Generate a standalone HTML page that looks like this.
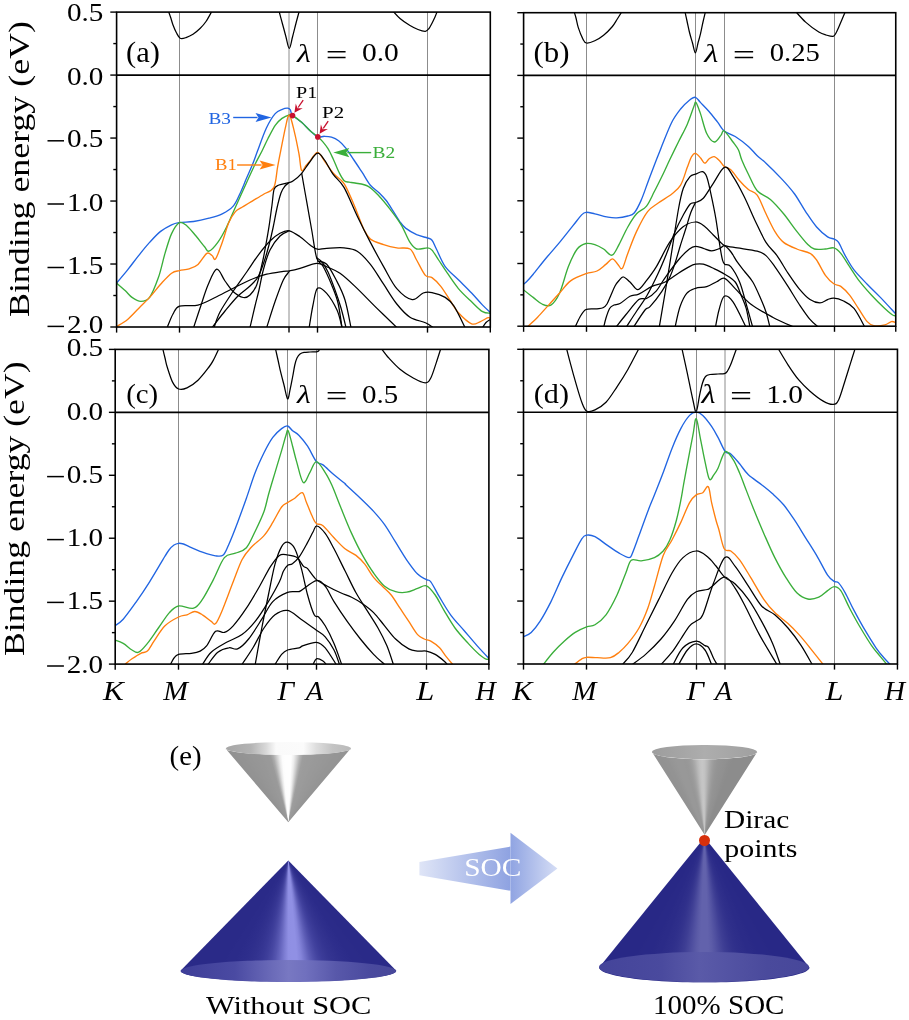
<!DOCTYPE html>
<html><head><meta charset="utf-8"><title>Band structure</title>
<style>html,body{margin:0;padding:0;background:#fff;}.t{}body{width:909px;height:1020px;position:relative;overflow:hidden;}</style>
</head><body>
<svg width="909" height="1020" viewBox="0 0 909 1020" style="position:absolute;left:0;top:0">
<defs>
</defs>
<clipPath id="clipa"><rect x="116.6" y="12.1" width="373.70000000000005" height="314.9"/></clipPath>
<line x1="179.50" y1="12.1" x2="179.50" y2="327.0" stroke="#8c8c8c" stroke-width="1"/>
<line x1="289.00" y1="12.1" x2="289.00" y2="327.0" stroke="#8c8c8c" stroke-width="1"/>
<line x1="317.50" y1="12.1" x2="317.50" y2="327.0" stroke="#8c8c8c" stroke-width="1"/>
<line x1="427.50" y1="12.1" x2="427.50" y2="327.0" stroke="#8c8c8c" stroke-width="1"/>
<g clip-path="url(#clipa)" fill="none" stroke-linejoin="round" stroke-linecap="round">
<path d="M168.3,11.0 C168.7,12.0 169.7,14.7 170.5,17.0 C171.3,19.3 172.0,22.4 173.0,25.0 C174.0,27.6 175.1,30.3 176.3,32.5 C177.5,34.7 178.6,37.4 180.2,38.3 C181.8,39.1 183.9,38.3 186.0,37.6 C188.1,36.9 190.7,35.8 193.0,34.3 C195.3,32.8 197.8,30.6 200.0,28.5 C202.2,26.4 204.0,24.4 206.0,21.5 C208.0,18.6 211.0,12.8 212.0,11.0" stroke="#000000" stroke-width="1.25"/>
<path d="M279.0,11.0 C279.6,13.2 281.3,19.7 282.5,24.0 C283.7,28.3 284.9,32.9 286.0,37.0 C287.1,41.1 288.2,48.4 289.3,48.4 C290.4,48.4 291.4,41.1 292.5,37.0 C293.6,32.9 294.7,28.3 295.8,24.0 C296.9,19.7 298.7,13.2 299.3,11.0" stroke="#000000" stroke-width="1.25"/>
<path d="M392.0,10.0 C393.3,11.4 397.0,15.9 400.0,18.5 C403.0,21.1 407.0,23.7 410.0,25.5 C413.0,27.3 415.4,28.5 418.0,29.5 C420.6,30.5 423.6,31.5 425.4,31.3 C427.2,31.1 427.9,29.9 429.0,28.5 C430.1,27.1 431.0,25.1 432.0,23.2 C433.0,21.3 434.0,19.2 435.0,17.0 C436.0,14.8 437.3,11.2 437.8,10.0" stroke="#000000" stroke-width="1.25"/>
<path d="M116.6,283.1 C118.4,280.9 123.9,274.5 127.6,269.9 C131.3,265.3 134.9,260.2 138.6,255.6 C142.3,251.0 145.9,246.4 149.6,242.4 C153.3,238.4 156.9,234.3 160.6,231.4 C164.3,228.5 168.4,226.3 171.6,224.8 C174.8,223.3 175.8,223.2 179.5,222.6 C183.2,222.0 188.7,222.2 193.6,221.5 C198.5,220.8 204.2,219.5 209.0,218.2 C213.8,216.9 218.2,215.8 222.2,213.8 C226.2,211.8 230.3,209.4 233.2,206.1 C236.1,202.8 237.6,198.6 239.8,194.0 C242.0,189.4 244.2,183.7 246.4,178.6 C248.6,173.5 251.1,167.8 253.0,163.2 C254.9,158.6 255.4,156.7 257.6,150.8 C259.8,144.9 263.5,134.2 266.4,128.0 C269.3,121.8 272.5,116.7 275.2,113.6 C277.9,110.5 280.2,110.2 282.3,109.3 C284.4,108.4 286.3,108.1 287.6,108.2 C288.9,108.3 289.5,108.6 290.3,109.8 C291.1,111.0 290.6,113.1 292.5,115.2 C294.4,117.3 298.6,119.7 301.6,122.3 C304.6,124.9 307.7,128.6 310.4,131.0 C313.1,133.4 315.4,136.0 317.8,136.9 C320.2,137.8 322.2,136.2 324.5,136.3 C326.8,136.4 329.1,136.5 331.5,137.2 C333.9,137.9 336.2,138.9 338.6,140.7 C341.0,142.5 343.1,144.6 345.6,147.8 C348.2,151.0 351.1,155.9 353.9,160.0 C356.7,164.1 359.4,168.2 362.2,172.4 C364.9,176.6 367.5,181.8 370.4,185.2 C373.2,188.6 376.7,190.3 379.3,192.9 C381.9,195.5 383.9,197.5 386.2,200.5 C388.5,203.5 390.7,207.2 393.0,210.8 C395.3,214.4 397.8,218.9 399.9,221.8 C402.0,224.7 402.8,225.9 405.6,228.1 C408.4,230.2 412.9,233.0 416.6,234.7 C420.3,236.3 425.0,237.1 427.6,238.0 C430.2,238.9 430.5,238.4 432.0,240.2 C433.5,242.0 434.2,244.6 436.4,249.0 C438.6,253.4 441.5,261.5 445.2,266.6 C448.9,271.7 454.0,275.4 458.4,279.8 C462.8,284.2 467.6,288.8 471.6,293.0 C475.6,297.2 479.5,301.9 482.6,305.1 C485.8,308.4 489.2,311.3 490.5,312.5" stroke="#2165e2" stroke-width="1.35"/>
<path d="M116.6,283.1 C118.1,284.4 122.8,288.4 125.4,290.8 C128.0,293.2 129.4,295.6 132.0,297.4 C134.6,299.2 137.9,301.4 140.8,301.4 C143.7,301.4 146.7,301.4 149.6,297.4 C152.5,293.4 155.8,284.9 158.4,277.6 C161.0,270.3 162.8,260.7 165.0,253.4 C167.2,246.1 169.2,238.7 171.6,233.6 C174.0,228.5 176.9,223.9 179.5,222.6 C182.1,221.3 184.3,223.7 187.0,225.9 C189.7,228.1 192.9,232.3 195.8,235.8 C198.7,239.3 202.4,244.2 204.6,246.8 C206.8,249.4 206.8,251.9 209.0,251.2 C211.2,250.5 214.9,246.4 217.8,242.4 C220.7,238.4 223.7,232.9 226.6,227.0 C229.5,221.1 232.1,214.5 235.4,207.2 C238.7,199.9 243.1,190.2 246.4,183.0 C249.7,175.8 252.6,169.3 255.2,164.0 C257.8,158.7 259.9,155.2 262.0,151.0 C264.1,146.8 265.8,142.8 268.0,138.5 C270.2,134.2 272.9,128.7 275.2,125.3 C277.5,122.0 279.6,120.2 282.0,118.4 C284.4,116.7 287.6,115.3 289.3,114.8 C291.1,114.3 290.4,114.2 292.5,115.4 C294.6,116.7 298.6,119.7 301.6,122.3 C304.6,124.9 307.7,128.6 310.4,131.0 C313.1,133.4 315.8,135.1 317.8,136.9 C319.9,138.7 321.0,139.6 322.7,141.6 C324.4,143.6 326.2,145.8 328.0,148.7 C329.8,151.6 331.5,155.4 333.3,159.2 C335.1,163.0 336.8,168.0 338.6,171.5 C340.4,175.0 342.1,178.6 343.9,180.4 C345.7,182.2 347.3,181.8 349.2,182.2 C351.1,182.6 351.8,182.3 355.0,183.0 C358.2,183.7 364.2,184.1 368.2,186.3 C372.2,188.5 375.5,192.3 379.2,196.2 C382.9,200.0 386.5,204.6 390.2,209.4 C393.9,214.2 397.9,219.3 401.2,224.8 C404.5,230.3 407.4,238.4 410.0,242.4 C412.6,246.4 413.7,248.1 416.6,249.0 C419.5,249.9 425.0,247.7 427.6,247.9 C430.2,248.1 430.2,248.1 432.0,250.1 C433.8,252.1 436.0,256.1 438.6,260.0 C441.2,263.9 444.1,268.4 447.4,273.2 C450.7,278.0 454.4,283.8 458.4,288.6 C462.4,293.4 467.6,298.0 471.6,301.8 C475.6,305.6 479.5,309.8 482.6,311.7 C485.8,313.6 489.2,313.0 490.5,313.3" stroke="#3aae3a" stroke-width="1.35"/>
<path d="M116.6,326.5 C118.4,325.3 123.9,322.4 127.6,319.4 C131.3,316.4 134.9,312.1 138.6,308.4 C142.3,304.7 145.9,301.4 149.6,297.4 C153.3,293.4 156.9,288.2 160.6,284.2 C164.3,280.2 168.4,275.5 171.6,273.2 C174.8,270.9 176.6,271.3 179.5,270.6 C182.4,269.9 186.1,269.8 189.2,268.8 C192.3,267.8 195.1,267.0 198.0,264.4 C200.9,261.8 204.5,254.9 206.8,253.4 C209.1,251.9 210.5,254.6 212.0,255.5 C213.5,256.4 213.9,261.1 215.6,258.9 C217.3,256.7 220.0,248.4 222.2,242.4 C224.4,236.4 226.6,227.7 228.8,222.6 C231.0,217.5 233.2,214.2 235.4,211.6 C237.6,209.0 239.1,209.0 242.0,207.2 C244.9,205.4 249.3,202.8 253.0,200.6 C256.7,198.4 260.5,196.2 264.0,194.0 C267.5,191.8 271.6,191.8 273.9,187.4 C276.1,183.0 276.4,173.8 277.5,167.6 C278.6,161.4 279.4,157.4 280.8,150.4 C282.2,143.4 284.4,131.6 285.8,125.8 C287.2,120.0 288.0,114.2 289.5,115.4 C291.0,116.6 293.0,126.4 294.6,132.8 C296.2,139.2 297.8,147.7 299.0,154.0 C300.2,160.3 300.4,168.6 301.6,170.5 C302.8,172.4 304.5,167.2 306.0,165.5 C307.5,163.8 308.5,162.7 310.4,160.5 C312.3,158.3 315.1,152.3 317.5,152.4 C319.9,152.5 321.9,157.5 324.5,161.0 C327.1,164.5 330.4,169.9 333.3,173.3 C336.2,176.7 340.0,178.8 342.1,181.2 C344.2,183.5 344.1,183.1 346.2,187.4 C348.3,191.7 352.1,200.2 355.0,207.2 C357.9,214.2 361.2,223.9 363.8,229.2 C366.4,234.5 367.1,236.5 370.4,239.1 C373.7,241.7 379.2,243.1 383.6,244.6 C388.0,246.1 392.4,247.2 396.8,247.9 C401.2,248.6 406.7,247.0 410.0,249.0 C413.3,251.0 414.0,255.6 416.6,260.0 C419.2,264.4 422.8,272.5 425.4,275.4 C428.0,278.3 429.4,275.8 432.0,277.6 C434.6,279.4 437.9,282.7 440.8,286.4 C443.7,290.1 446.7,295.2 449.6,299.6 C452.5,304.0 454.7,308.8 458.4,312.8 C462.1,316.8 467.9,322.3 471.6,323.8 C475.3,325.3 477.6,322.6 480.4,321.6 C483.1,320.6 486.3,318.1 488.1,317.7 C489.9,317.3 490.5,319.1 491.0,319.4" stroke="#ff7f0e" stroke-width="1.35"/>
<path d="M167.2,327.5 C168.2,325.2 170.9,317.6 173.0,314.0 C175.1,310.4 175.3,307.7 179.5,306.2 C183.7,304.7 191.8,306.7 198.0,305.1 C204.2,303.5 210.8,299.5 216.7,296.7 C222.6,293.9 227.8,291.1 233.3,288.3 C238.9,285.5 244.4,282.4 250.0,280.0 C255.6,277.6 261.1,275.6 266.7,274.2 C272.2,272.8 279.6,271.9 283.3,271.3 C287.1,270.7 286.4,271.3 289.2,270.8 C292.0,270.3 295.4,269.6 300.0,268.3 C304.6,267.1 312.2,263.6 316.7,263.3 C321.1,263.0 322.8,265.0 326.7,266.7 C330.6,268.4 335.3,270.0 340.0,273.3 C344.7,276.6 348.8,280.5 355.0,286.4 C361.2,292.2 370.0,301.5 377.0,308.4 C384.0,315.2 393.5,324.3 396.8,327.5" stroke="#000000" stroke-width="1.25"/>
<path d="M193.6,327.5 C194.7,324.3 197.6,315.4 200.0,308.3 C202.4,301.2 205.2,291.5 208.0,285.0 C210.8,278.5 213.9,269.9 216.7,269.2 C219.5,268.5 222.2,277.2 225.0,281.0 C227.8,284.8 230.2,288.9 233.3,291.7 C236.4,294.4 240.5,296.9 243.3,297.5 C246.1,298.1 247.8,297.1 250.0,295.0 C252.2,292.9 254.6,290.5 256.7,285.0 C258.8,279.5 260.9,268.8 262.5,262.0 C264.1,255.2 264.9,249.9 266.0,244.0 C267.1,238.1 268.0,233.2 269.0,226.7 C270.0,220.2 271.1,211.3 272.0,205.0 C272.9,198.7 273.0,192.3 274.2,189.0 C275.4,185.7 276.5,186.1 279.0,185.0 C281.5,183.9 286.8,183.2 289.2,182.5 C291.6,181.8 291.2,182.3 293.3,180.8 C295.4,179.3 299.1,176.3 301.7,173.3 C304.3,170.3 306.4,166.3 309.0,163.0 C311.6,159.7 314.9,153.7 317.5,153.2 C320.1,152.7 321.9,156.5 324.5,160.0 C327.1,163.5 329.8,169.6 333.0,174.2 C336.2,178.8 340.0,180.4 344.0,187.4 C348.0,194.4 352.8,206.8 357.2,216.0 C361.6,225.2 366.0,234.0 370.4,242.4 C374.8,250.8 379.2,258.9 383.6,266.6 C388.0,274.3 392.0,283.1 396.8,288.6 C401.6,294.1 407.8,298.9 412.2,299.6 C416.6,300.3 419.9,294.2 423.2,293.0 C426.5,291.8 428.3,291.9 432.0,292.6 C435.7,293.3 441.5,295.1 445.2,297.4 C448.9,299.7 450.7,301.2 454.0,306.2 C457.3,311.2 463.2,323.9 465.0,327.5" stroke="#000000" stroke-width="1.25"/>
<path d="M212.0,327.5 C214.2,324.8 220.7,316.2 225.0,311.0 C229.3,305.8 233.8,300.2 238.0,296.0 C242.2,291.8 246.7,289.2 250.0,286.0 C253.3,282.8 255.7,281.0 258.0,277.0 C260.3,273.0 262.2,267.3 264.0,262.0 C265.8,256.7 267.5,250.7 269.0,245.0 C270.5,239.3 271.7,234.2 273.0,228.0 C274.3,221.8 275.7,213.8 277.0,208.0 C278.3,202.2 279.7,196.7 281.0,193.0 C282.3,189.3 283.6,187.8 285.0,186.0 C286.4,184.2 288.5,183.1 289.2,182.5" stroke="#000000" stroke-width="1.25"/>
<path d="M214.0,327.5 C215.0,324.9 216.8,318.1 220.0,312.0 C223.2,305.9 228.9,297.7 233.3,291.0 C237.8,284.3 242.5,278.0 246.7,272.0 C250.9,266.0 254.4,260.2 258.3,255.0 C262.2,249.8 266.4,244.6 270.0,241.0 C273.6,237.4 276.8,235.0 280.0,233.3 C283.2,231.6 285.9,230.2 289.2,230.8 C292.5,231.4 296.5,234.3 300.0,236.7 C303.5,239.1 307.1,242.9 310.0,245.0 C312.9,247.1 314.7,248.6 317.5,249.2 C320.3,249.8 322.3,248.5 326.7,248.3 C331.1,248.1 338.9,247.4 344.0,247.9 C349.1,248.4 352.8,248.4 357.2,251.2 C361.6,253.9 366.0,258.9 370.4,264.4 C374.8,269.9 379.2,277.6 383.6,284.2 C388.0,290.8 392.4,298.5 396.8,304.0 C401.2,309.5 405.2,314.1 410.0,317.2 C414.8,320.3 421.6,321.0 425.4,322.7 C429.2,324.4 431.7,326.7 433.0,327.5" stroke="#000000" stroke-width="1.25"/>
<path d="M250.0,327.5 C250.8,323.9 253.5,312.2 255.0,306.0 C256.5,299.8 257.6,296.0 259.0,290.0 C260.4,284.0 261.5,276.7 263.3,270.0 C265.1,263.3 267.2,255.7 270.0,250.0 C272.8,244.3 276.8,239.2 280.0,236.0 C283.2,232.8 287.7,231.7 289.2,230.8" stroke="#000000" stroke-width="1.25"/>
<path d="M266.7,327.5 C268.1,323.2 272.2,309.6 275.0,301.7 C277.8,293.8 280.9,285.0 283.3,280.0 C285.7,275.0 288.2,272.9 289.2,271.5" stroke="#000000" stroke-width="1.25"/>
<path d="M301.7,173.3 C302.5,178.0 305.0,192.2 306.7,201.7 C308.4,211.1 310.0,220.6 311.7,230.0 C313.4,239.4 314.8,251.9 316.7,258.0 C318.6,264.1 320.8,262.2 323.3,266.7 C325.8,271.2 329.2,278.9 331.7,285.0 C334.1,291.1 336.3,295.9 338.0,303.0 C339.7,310.1 341.3,323.4 342.0,327.5" stroke="#000000" stroke-width="1.25"/>
<path d="M317.0,258.0 C317.8,258.7 320.2,259.7 322.0,262.0 C323.8,264.3 325.8,267.3 328.0,272.0 C330.2,276.7 332.8,284.0 335.0,290.0 C337.2,296.0 339.2,301.8 341.0,308.0 C342.8,314.2 345.2,324.2 346.0,327.5" stroke="#000000" stroke-width="1.25"/>
<path d="M317.5,261.0 C319.0,261.6 323.5,261.0 326.7,264.3 C329.9,267.6 333.6,275.1 336.7,281.0 C339.8,286.9 342.6,292.2 345.0,300.0 C347.4,307.8 350.0,322.9 351.0,327.5" stroke="#000000" stroke-width="1.25"/>
<path d="M309.2,327.5 C309.8,323.8 311.6,311.5 313.0,305.0 C314.4,298.5 315.2,290.2 317.5,288.3 C319.8,286.4 323.4,289.7 326.7,293.3 C329.9,296.9 334.4,304.3 337.0,310.0 C339.6,315.7 341.2,324.6 342.0,327.5" stroke="#000000" stroke-width="1.25"/>
<path d="M482.6,327.5 C483.2,326.7 484.7,323.9 486.0,322.5 C487.3,321.1 489.6,319.9 490.3,319.4" stroke="#000000" stroke-width="1.25"/>
</g>
<line x1="116.6" y1="75.08" x2="490.3" y2="75.08" stroke="#000" stroke-width="1.6"/>
<rect x="116.6" y="12.1" width="373.70" height="314.90" fill="none" stroke="#000" stroke-width="1.6"/>
<line x1="110.30" y1="12.10" x2="116.6" y2="12.10" stroke="#000" stroke-width="1.4"/>
<line x1="113.30" y1="43.59" x2="116.6" y2="43.59" stroke="#000" stroke-width="1.4"/>
<line x1="110.30" y1="75.08" x2="116.6" y2="75.08" stroke="#000" stroke-width="1.4"/>
<line x1="113.30" y1="106.57" x2="116.6" y2="106.57" stroke="#000" stroke-width="1.4"/>
<line x1="110.30" y1="138.06" x2="116.6" y2="138.06" stroke="#000" stroke-width="1.4"/>
<line x1="113.30" y1="169.55" x2="116.6" y2="169.55" stroke="#000" stroke-width="1.4"/>
<line x1="110.30" y1="201.04" x2="116.6" y2="201.04" stroke="#000" stroke-width="1.4"/>
<line x1="113.30" y1="232.53" x2="116.6" y2="232.53" stroke="#000" stroke-width="1.4"/>
<line x1="110.30" y1="264.02" x2="116.6" y2="264.02" stroke="#000" stroke-width="1.4"/>
<line x1="113.30" y1="295.51" x2="116.6" y2="295.51" stroke="#000" stroke-width="1.4"/>
<line x1="110.30" y1="327.00" x2="116.6" y2="327.00" stroke="#000" stroke-width="1.4"/>
<line x1="116.60" y1="327.0" x2="116.60" y2="332.60" stroke="#000" stroke-width="1.4"/>
<line x1="179.50" y1="327.0" x2="179.50" y2="332.60" stroke="#000" stroke-width="1.4"/>
<line x1="289.00" y1="327.0" x2="289.00" y2="332.60" stroke="#000" stroke-width="1.4"/>
<line x1="317.50" y1="327.0" x2="317.50" y2="332.60" stroke="#000" stroke-width="1.4"/>
<line x1="427.50" y1="327.0" x2="427.50" y2="332.60" stroke="#000" stroke-width="1.4"/>
<line x1="490.30" y1="327.0" x2="490.30" y2="332.60" stroke="#000" stroke-width="1.4"/>
<clipPath id="clipb"><rect x="523.6" y="12.7" width="372.15" height="313.5"/></clipPath>
<line x1="586.50" y1="12.7" x2="586.50" y2="326.2" stroke="#8c8c8c" stroke-width="1"/>
<line x1="695.50" y1="12.7" x2="695.50" y2="326.2" stroke="#8c8c8c" stroke-width="1"/>
<line x1="724.50" y1="12.7" x2="724.50" y2="326.2" stroke="#8c8c8c" stroke-width="1"/>
<line x1="834.50" y1="12.7" x2="834.50" y2="326.2" stroke="#8c8c8c" stroke-width="1"/>
<g clip-path="url(#clipb)" fill="none" stroke-linejoin="round" stroke-linecap="round">
<path d="M573.9,11.0 C574.2,12.2 575.3,15.2 576.0,18.0 C576.7,20.8 577.2,24.2 578.3,27.6 C579.4,31.0 581.4,36.0 582.7,38.6 C584.1,41.2 584.4,42.6 586.4,43.0 C588.4,43.4 591.9,42.1 594.8,40.8 C597.7,39.5 600.7,37.7 603.6,35.3 C606.5,32.9 610.2,29.1 612.4,26.5 C614.6,23.9 615.4,22.1 617.0,19.5 C618.6,16.9 621.4,12.4 622.3,11.0" stroke="#000000" stroke-width="1.25"/>
<path d="M684.8,11.0 C685.2,12.7 686.2,17.5 687.0,21.0 C687.8,24.5 688.5,28.3 689.4,32.0 C690.3,35.7 691.5,39.5 692.5,43.0 C693.5,46.5 694.5,52.9 695.4,52.9 C696.3,52.9 697.2,46.1 698.0,43.0 C698.8,39.9 699.6,37.7 700.4,34.2 C701.2,30.7 702.1,25.9 703.0,22.0 C703.9,18.1 705.2,12.8 705.6,11.0" stroke="#000000" stroke-width="1.25"/>
<path d="M795.2,11.0 C796.9,12.8 801.7,18.6 805.6,22.1 C809.5,25.6 815.4,29.9 818.8,32.0 C822.2,34.1 823.6,34.3 826.0,35.0 C828.4,35.7 831.4,36.7 833.1,36.4 C834.8,36.1 835.1,34.5 836.0,33.0 C836.9,31.5 837.6,29.9 838.6,27.6 C839.6,25.4 840.8,22.3 842.0,19.5 C843.2,16.7 845.0,12.4 845.6,11.0" stroke="#000000" stroke-width="1.25"/>
<path d="M523.6,284.2 C524.2,283.7 525.4,283.0 527.0,281.3 C528.6,279.6 530.0,278.1 533.2,274.2 C536.4,270.3 542.0,263.1 546.4,257.8 C550.8,252.5 555.2,247.7 559.6,242.4 C564.0,237.1 569.1,230.5 572.8,225.9 C576.5,221.3 579.4,217.2 581.6,214.9 C583.8,212.6 583.8,212.5 586.0,212.3 C588.2,212.1 591.1,213.0 594.8,213.8 C598.5,214.6 604.3,216.4 608.0,217.1 C611.7,217.8 613.5,218.0 616.8,217.8 C620.1,217.6 624.9,216.8 627.8,216.0 C630.7,215.2 632.2,215.3 634.4,212.7 C636.6,210.1 638.8,205.5 641.0,200.6 C643.2,195.7 645.4,188.9 647.6,183.0 C649.8,177.1 652.2,170.7 654.2,165.4 C656.2,160.2 658.2,155.2 659.7,151.5 C661.2,147.8 661.0,147.9 663.0,143.0 C665.0,138.1 668.9,127.9 671.8,122.2 C674.7,116.5 677.7,112.7 680.6,109.0 C683.5,105.3 686.9,102.2 689.4,100.2 C691.9,98.2 693.6,96.9 695.4,97.3 C697.2,97.7 698.2,100.1 700.4,102.4 C702.6,104.7 705.9,107.9 708.8,111.2 C711.7,114.5 715.0,118.9 717.6,122.2 C720.2,125.5 721.3,128.6 724.2,131.0 C727.1,133.4 731.2,133.9 735.2,136.5 C739.2,139.1 744.8,143.2 748.4,146.4 C752.0,149.6 754.1,152.7 757.0,155.5 C759.9,158.3 761.9,159.3 766.0,163.2 C770.1,167.0 776.6,173.5 781.4,178.6 C786.2,183.7 790.6,188.5 794.6,194.0 C798.6,199.5 801.9,206.1 805.6,211.6 C809.3,217.1 812.9,222.8 816.6,227.0 C820.3,231.2 824.7,234.9 827.6,236.9 C830.5,238.9 832.4,238.2 834.2,239.1 C836.0,240.0 836.8,239.7 838.6,242.4 C840.4,245.2 842.6,251.0 845.2,255.6 C847.8,260.2 850.3,265.1 854.0,269.9 C857.7,274.7 862.8,279.6 867.2,284.2 C871.6,288.8 875.8,292.6 880.4,297.4 C885.0,302.2 892.1,310.0 894.7,312.8 C897.3,315.6 895.8,313.8 896.0,314.0" stroke="#2165e2" stroke-width="1.35"/>
<path d="M523.3,289.7 C524.9,291.0 530.1,295.0 533.2,297.4 C536.3,299.8 539.1,302.7 542.0,304.0 C544.9,305.3 547.9,306.9 550.8,305.1 C553.7,303.3 556.7,299.4 559.6,293.0 C562.5,286.6 565.5,273.9 568.4,266.6 C571.3,259.3 574.3,252.8 577.2,249.0 C580.1,245.2 583.1,244.2 586.0,243.5 C588.9,242.8 591.9,243.7 594.8,244.6 C597.7,245.5 600.7,247.2 603.6,249.0 C606.5,250.8 609.4,255.9 612.0,255.2 C614.6,254.5 616.4,249.3 619.0,244.6 C621.6,239.9 624.9,232.1 627.8,227.0 C630.7,221.9 633.5,217.3 636.6,213.8 C639.7,210.3 643.6,209.8 646.5,206.1 C649.4,202.4 651.5,197.1 654.2,191.8 C657.0,186.5 660.4,179.5 663.0,174.2 C665.6,168.9 667.0,165.4 669.6,160.0 C672.2,154.6 675.5,147.9 678.4,142.0 C681.3,136.1 684.6,130.3 687.2,124.4 C689.8,118.5 692.3,110.5 693.8,106.8 C695.3,103.1 694.9,101.3 696.0,102.4 C697.1,103.5 698.6,108.3 700.4,113.4 C702.2,118.5 704.3,128.4 706.6,133.2 C708.9,138.0 711.9,141.6 714.3,142.0 C716.7,142.4 719.2,137.2 720.9,135.4 C722.5,133.6 722.2,129.9 724.2,131.0 C726.2,132.1 730.6,138.8 733.0,142.0 C735.4,145.2 737.0,147.0 738.5,150.0 C740.0,153.0 740.1,156.0 741.8,160.0 C743.4,164.0 745.8,169.1 748.4,174.2 C751.0,179.3 753.5,186.5 757.2,190.7 C760.9,194.9 766.0,195.7 770.4,199.5 C774.8,203.3 779.2,208.5 783.6,213.8 C788.0,219.1 792.8,226.3 796.8,231.4 C800.8,236.5 804.9,241.7 807.8,244.6 C810.7,247.5 811.5,248.3 814.4,249.0 C817.3,249.7 822.2,249.2 825.4,249.0 C828.6,248.8 831.2,247.2 833.8,247.9 C836.4,248.6 838.2,250.3 840.8,253.4 C843.4,256.5 846.7,262.2 849.6,266.6 C852.5,271.0 854.7,275.0 858.4,279.8 C862.1,284.6 867.2,290.4 871.6,295.2 C876.0,300.0 881.1,305.0 884.8,308.4 C888.5,311.8 891.7,314.6 893.6,315.5 C895.5,316.4 895.6,314.2 896.0,313.9" stroke="#3aae3a" stroke-width="1.35"/>
<path d="M527.7,326.5 C529.4,324.9 534.1,320.8 537.6,317.2 C541.1,313.6 544.9,309.1 548.6,305.1 C552.3,301.1 555.9,297.0 559.6,293.0 C563.3,289.0 566.2,284.1 570.6,280.9 C575.0,277.7 581.6,275.3 586.0,273.7 C590.4,272.1 593.7,272.6 597.0,271.0 C600.3,269.4 603.2,266.4 605.8,264.4 C608.4,262.4 610.4,258.9 612.4,258.9 C614.4,258.9 616.2,262.8 617.9,264.4 C619.5,266.0 620.6,270.2 622.3,268.4 C623.9,266.6 625.4,259.6 627.8,253.4 C630.2,247.2 633.3,238.4 636.6,231.4 C639.9,224.4 643.9,216.4 647.6,211.6 C651.3,206.8 654.6,205.7 658.6,202.8 C662.6,199.9 668.1,196.9 671.8,194.0 C675.5,191.1 678.0,189.6 680.6,185.2 C683.2,180.8 685.4,172.4 687.2,167.6 C689.0,162.8 690.2,159.0 691.6,156.6 C693.0,154.2 693.9,153.1 695.4,153.3 C696.9,153.5 698.8,156.0 700.4,157.7 C702.0,159.3 703.3,163.0 704.8,163.2 C706.3,163.4 707.6,159.9 709.2,158.8 C710.8,157.7 712.5,156.2 714.3,156.6 C716.1,157.0 718.1,159.3 719.8,161.0 C721.4,162.7 722.4,165.0 724.2,166.5 C726.0,168.0 728.2,167.4 730.8,169.8 C733.4,172.2 736.7,177.5 739.6,180.8 C742.5,184.1 745.5,187.2 748.4,189.6 C751.3,192.0 754.3,191.1 757.2,195.1 C760.1,199.1 763.1,207.8 766.0,213.8 C768.9,219.9 771.9,226.6 774.8,231.4 C777.7,236.2 779.9,239.5 783.6,242.4 C787.3,245.3 792.4,247.2 796.8,249.0 C801.2,250.8 806.7,251.6 810.0,253.4 C813.3,255.2 814.0,256.3 816.6,260.0 C819.2,263.7 822.5,271.4 825.4,275.4 C828.3,279.4 831.2,282.0 833.8,283.8 C836.4,285.6 838.2,284.5 840.8,286.4 C843.4,288.3 846.7,291.5 849.6,295.2 C852.5,298.9 855.5,304.0 858.4,308.4 C861.3,312.8 864.6,318.7 867.2,321.6 C869.8,324.5 870.9,325.1 873.8,325.6 C876.7,326.2 881.9,325.6 884.8,324.9 C887.7,324.2 889.5,322.0 891.4,321.6 C893.3,321.2 895.2,322.5 896.0,322.7" stroke="#ff7f0e" stroke-width="1.35"/>
<path d="M603.6,327.5 C604.0,325.9 605.0,321.2 606.0,318.0 C607.0,314.8 608.3,310.7 609.6,308.5 C610.9,306.3 612.3,305.8 614.0,305.0 C615.7,304.2 617.3,304.9 620.0,303.5 C622.7,302.1 626.9,297.9 630.0,296.3 C633.1,294.7 635.1,295.8 638.8,294.1 C642.5,292.5 647.6,288.4 652.0,286.4 C656.4,284.4 660.8,284.2 665.2,282.0 C669.6,279.8 674.4,275.8 678.4,273.2 C682.4,270.6 686.5,268.1 689.4,266.6 C692.2,265.1 693.2,264.6 695.5,264.2 C697.8,263.8 700.3,263.5 703.3,264.2 C706.3,264.9 709.7,266.6 713.3,268.3 C716.9,270.0 721.1,271.9 724.7,274.2 C728.4,276.5 732.5,278.5 735.2,282.0 C737.9,285.5 739.2,290.6 741.0,295.0 C742.8,299.4 744.7,303.0 746.2,308.4 C747.7,313.8 749.4,324.3 750.0,327.5" stroke="#000000" stroke-width="1.25"/>
<path d="M575.0,327.5 C575.8,325.8 578.2,320.0 580.0,317.0 C581.8,314.0 583.2,310.9 586.0,309.5 C588.8,308.1 594.2,309.1 597.0,308.8 C599.8,308.5 601.3,308.6 603.0,307.8 C604.7,307.0 605.7,306.1 607.0,304.0 C608.3,301.9 609.7,298.0 611.0,295.0 C612.3,292.0 613.7,288.4 615.0,286.0 C616.3,283.6 617.6,282.0 619.0,280.5 C620.4,279.0 621.6,276.8 623.4,277.0 C625.2,277.2 627.6,279.9 630.0,282.0 C632.4,284.1 635.1,289.7 637.7,289.7 C640.3,289.7 642.3,285.9 645.4,282.0 C648.5,278.1 652.4,273.2 656.4,266.6 C660.4,260.0 665.2,249.0 669.6,242.4 C674.0,235.8 678.5,230.4 682.8,227.0 C687.1,223.6 691.8,222.1 695.5,222.0 C699.2,221.9 702.0,224.5 705.0,226.7 C708.0,228.9 710.8,232.5 713.3,235.0 C715.8,237.5 718.1,239.9 720.0,241.7 C721.9,243.5 721.8,244.6 724.7,245.6 C727.6,246.6 732.0,247.0 737.4,247.9 C742.8,248.8 752.4,249.9 757.2,251.2 C762.0,252.5 763.1,253.0 766.0,255.6 C768.9,258.2 771.1,261.5 774.8,266.6 C778.5,271.7 784.0,280.2 788.0,286.4 C792.0,292.6 795.3,298.5 799.0,304.0 C802.7,309.5 806.7,315.5 810.0,319.4 C813.3,323.3 817.3,326.1 818.8,327.5" stroke="#000000" stroke-width="1.25"/>
<path d="M615.7,327.5 C617.4,325.4 621.8,319.6 625.6,315.0 C629.5,310.4 635.3,302.4 638.8,299.6 C642.3,296.9 643.6,300.0 646.5,298.5 C649.4,297.0 653.3,294.3 656.4,290.8 C659.5,287.3 661.5,282.7 665.2,277.6 C668.9,272.5 674.4,264.8 678.4,260.0 C682.4,255.2 686.5,251.3 689.4,249.0 C692.2,246.7 693.2,246.4 695.5,246.3 C697.8,246.2 700.6,247.6 703.3,248.3 C706.0,249.1 708.9,250.8 711.7,250.8 C714.5,250.8 717.8,249.1 720.0,248.3 C722.2,247.5 722.9,245.2 724.7,245.8 C726.5,246.4 728.9,249.3 731.0,252.0 C733.1,254.7 735.1,258.9 737.4,262.2 C739.7,265.5 742.4,268.7 745.0,272.0 C747.6,275.3 750.3,277.8 752.8,282.0 C755.3,286.2 757.8,292.0 760.0,297.0 C762.2,302.0 764.3,306.9 766.0,312.0 C767.7,317.1 769.3,324.9 770.0,327.5" stroke="#000000" stroke-width="1.25"/>
<path d="M626.0,327.5 C627.8,324.8 633.2,316.2 636.7,311.0 C640.2,305.8 643.1,302.3 646.7,296.0 C650.3,289.7 655.0,280.1 658.3,273.0 C661.6,265.9 663.9,260.2 666.7,253.3 C669.5,246.4 672.2,238.1 675.0,231.7 C677.8,225.3 680.8,219.6 683.3,215.0 C685.8,210.4 688.0,206.3 690.0,204.2 C692.0,202.1 693.3,203.5 695.5,202.5 C697.7,201.5 700.3,201.5 703.3,198.3 C706.3,195.1 709.7,188.5 713.3,183.3 C716.9,178.1 721.4,168.3 724.7,167.2 C728.0,166.0 729.8,171.6 733.0,176.4 C736.2,181.2 740.3,188.9 744.0,196.2 C747.7,203.5 751.3,212.7 755.0,220.4 C758.7,228.1 762.3,236.5 766.0,242.4 C769.7,248.3 773.3,250.5 777.0,255.6 C780.7,260.7 784.3,267.7 788.0,273.2 C791.7,278.7 795.3,284.2 799.0,288.6 C802.7,293.0 806.5,297.2 810.0,299.6 C813.5,302.0 817.0,302.9 819.9,302.9 C822.8,302.9 825.3,300.4 827.6,299.6 C829.9,298.8 831.2,297.9 833.8,298.1 C836.4,298.3 839.6,299.0 843.0,300.7 C846.4,302.4 850.3,303.9 854.0,308.4 C857.7,312.9 863.2,324.3 865.0,327.5" stroke="#000000" stroke-width="1.25"/>
<path d="M659.2,327.5 C660.2,321.8 662.9,305.9 665.0,293.3 C667.1,280.7 669.5,265.6 671.7,251.7 C673.9,237.8 676.4,220.6 678.3,210.0 C680.2,199.4 681.3,193.9 683.3,188.3 C685.2,182.8 688.0,179.0 690.0,176.7 C692.0,174.3 693.4,175.0 695.5,174.2 C697.6,173.4 700.6,171.3 702.5,171.7 C704.4,172.1 705.3,173.1 706.7,176.7 C708.1,180.3 709.3,186.4 710.8,193.3 C712.3,200.2 714.3,209.4 715.8,218.3 C717.3,227.2 718.9,239.8 720.0,246.7 C721.1,253.6 721.7,257.1 722.5,260.0 C723.3,262.9 723.3,263.1 724.7,264.2 C726.1,265.3 728.3,263.6 730.8,266.6 C733.3,269.6 737.0,275.8 739.6,282.0 C742.2,288.2 744.0,296.4 746.2,304.0 C748.4,311.6 751.7,323.6 752.8,327.5" stroke="#000000" stroke-width="1.25"/>
<path d="M675.0,327.5 C675.8,324.0 678.0,312.4 680.0,306.7 C682.0,301.0 684.1,296.4 686.7,293.3 C689.3,290.2 692.2,289.4 695.5,288.3 C698.8,287.2 703.2,287.8 706.7,286.7 C710.2,285.6 713.7,283.1 716.7,281.7 C719.7,280.3 721.6,277.1 724.7,278.3 C727.8,279.5 730.9,284.3 735.2,288.6 C739.5,292.9 744.4,299.2 750.6,304.0 C756.8,308.8 765.3,313.3 772.6,317.2 C779.9,321.1 790.9,325.8 794.6,327.5" stroke="#000000" stroke-width="1.25"/>
<path d="M633.3,327.5 C635.2,324.6 642.2,313.5 645.0,310.0 C647.8,306.5 647.2,309.8 650.0,306.7 C652.8,303.6 658.4,296.7 661.7,291.7 C665.0,286.7 667.8,281.4 670.0,276.7 C672.2,272.0 673.3,268.3 675.0,263.3 C676.7,258.3 678.2,252.6 680.0,246.7 C681.8,240.8 684.2,233.8 686.0,228.0 C687.8,222.2 689.4,216.2 691.0,212.0 C692.6,207.8 694.8,204.1 695.5,202.5" stroke="#000000" stroke-width="1.25"/>
<path d="M715.4,327.5 C716.0,324.6 717.5,315.2 719.0,310.0 C720.5,304.8 721.9,297.7 724.2,296.3 C726.5,294.9 729.3,296.6 733.0,301.8 C736.7,307.0 744.0,323.2 746.2,327.5" stroke="#000000" stroke-width="1.25"/>
</g>
<line x1="523.6" y1="75.40" x2="895.75" y2="75.40" stroke="#000" stroke-width="1.6"/>
<rect x="523.6" y="12.7" width="372.15" height="313.50" fill="none" stroke="#000" stroke-width="1.6"/>
<line x1="517.30" y1="12.70" x2="523.6" y2="12.70" stroke="#000" stroke-width="1.4"/>
<line x1="520.30" y1="44.05" x2="523.6" y2="44.05" stroke="#000" stroke-width="1.4"/>
<line x1="517.30" y1="75.40" x2="523.6" y2="75.40" stroke="#000" stroke-width="1.4"/>
<line x1="520.30" y1="106.75" x2="523.6" y2="106.75" stroke="#000" stroke-width="1.4"/>
<line x1="517.30" y1="138.10" x2="523.6" y2="138.10" stroke="#000" stroke-width="1.4"/>
<line x1="520.30" y1="169.45" x2="523.6" y2="169.45" stroke="#000" stroke-width="1.4"/>
<line x1="517.30" y1="200.80" x2="523.6" y2="200.80" stroke="#000" stroke-width="1.4"/>
<line x1="520.30" y1="232.15" x2="523.6" y2="232.15" stroke="#000" stroke-width="1.4"/>
<line x1="517.30" y1="263.50" x2="523.6" y2="263.50" stroke="#000" stroke-width="1.4"/>
<line x1="520.30" y1="294.85" x2="523.6" y2="294.85" stroke="#000" stroke-width="1.4"/>
<line x1="517.30" y1="326.20" x2="523.6" y2="326.20" stroke="#000" stroke-width="1.4"/>
<line x1="523.60" y1="326.2" x2="523.60" y2="331.80" stroke="#000" stroke-width="1.4"/>
<line x1="586.50" y1="326.2" x2="586.50" y2="331.80" stroke="#000" stroke-width="1.4"/>
<line x1="695.50" y1="326.2" x2="695.50" y2="331.80" stroke="#000" stroke-width="1.4"/>
<line x1="724.50" y1="326.2" x2="724.50" y2="331.80" stroke="#000" stroke-width="1.4"/>
<line x1="834.50" y1="326.2" x2="834.50" y2="331.80" stroke="#000" stroke-width="1.4"/>
<line x1="895.75" y1="326.2" x2="895.75" y2="331.80" stroke="#000" stroke-width="1.4"/>
<clipPath id="clipc"><rect x="115.2" y="349.4" width="373.7" height="314.70000000000005"/></clipPath>
<line x1="178.50" y1="349.4" x2="178.50" y2="664.1" stroke="#8c8c8c" stroke-width="1"/>
<line x1="287.50" y1="349.4" x2="287.50" y2="664.1" stroke="#8c8c8c" stroke-width="1"/>
<line x1="316.50" y1="349.4" x2="316.50" y2="664.1" stroke="#8c8c8c" stroke-width="1"/>
<line x1="426.50" y1="349.4" x2="426.50" y2="664.1" stroke="#8c8c8c" stroke-width="1"/>
<g clip-path="url(#clipc)" fill="none" stroke-linejoin="round" stroke-linecap="round">
<path d="M162.6,348.0 C163.0,349.7 164.2,354.8 165.0,358.0 C165.8,361.2 165.9,362.9 167.2,367.0 C168.5,371.1 170.8,378.7 172.7,382.4 C174.6,386.1 176.2,388.1 178.6,389.0 C181.0,389.9 183.8,389.4 187.0,387.9 C190.2,386.4 194.3,383.7 198.0,380.2 C201.7,376.7 206.3,370.5 209.0,367.0 C211.7,363.5 212.3,362.2 214.0,359.0 C215.7,355.8 218.3,349.8 219.2,348.0" stroke="#000000" stroke-width="1.25"/>
<path d="M275.3,348.0 C275.8,350.0 277.1,356.1 278.0,360.0 C278.9,363.9 279.5,367.2 280.5,371.4 C281.5,375.6 282.8,380.4 284.0,385.0 C285.2,389.6 286.6,398.2 287.6,398.9 C288.6,399.6 289.3,392.8 290.2,389.0 C291.1,385.2 292.0,380.0 292.8,376.0 C293.6,372.0 294.1,368.0 294.8,365.0 C295.5,362.0 296.1,359.8 297.0,358.0 C297.9,356.2 298.8,354.9 300.0,354.0 C301.2,353.1 302.3,352.7 304.0,352.4 C305.7,352.1 307.9,352.1 310.0,352.0 C312.1,351.9 315.0,352.0 316.4,351.8 C317.8,351.6 318.0,351.6 318.6,351.0 C319.2,350.4 319.8,348.5 320.0,348.0" stroke="#000000" stroke-width="1.25"/>
<path d="M381.0,348.0 C382.3,349.7 385.8,354.7 389.0,358.2 C392.2,361.7 396.0,365.9 400.0,369.2 C404.0,372.5 409.0,375.7 413.2,378.0 C417.4,380.3 422.4,382.8 425.3,382.8 C428.2,382.8 429.0,381.4 430.8,378.0 C432.6,374.6 434.6,367.6 436.3,362.6 C438.0,357.6 440.2,350.4 441.0,348.0" stroke="#000000" stroke-width="1.25"/>
<path d="M114.8,625.8 C116.2,624.7 119.6,623.2 123.2,619.2 C126.8,615.2 132.0,607.8 136.4,601.6 C140.8,595.4 145.2,588.8 149.6,581.8 C154.0,574.8 159.6,565.1 162.8,559.8 C166.0,554.5 167.1,552.5 169.0,550.0 C170.9,547.5 172.4,546.1 174.0,545.0 C175.6,543.9 177.0,543.5 178.6,543.3 C180.2,543.1 181.7,543.5 183.5,544.0 C185.3,544.5 186.0,545.2 189.2,546.6 C192.3,548.0 198.0,550.6 202.4,552.1 C206.8,553.6 212.1,555.3 215.6,555.8 C219.1,556.3 221.1,556.9 223.3,555.0 C225.5,553.1 226.4,549.8 228.8,544.4 C231.2,539.0 234.7,530.1 237.6,522.4 C240.5,514.7 243.5,506.5 246.4,498.2 C249.3,489.9 252.3,480.2 255.2,472.6 C258.1,465.0 261.1,458.7 264.0,452.8 C266.9,446.9 269.9,441.4 272.8,437.4 C275.7,433.4 279.1,430.5 281.6,428.6 C284.1,426.7 285.8,425.6 287.6,426.0 C289.4,426.4 290.7,429.3 292.6,430.8 C294.5,432.3 296.3,432.6 298.8,435.2 C301.3,437.8 304.7,441.8 307.6,446.2 C310.5,450.6 313.8,458.5 316.4,461.6 C319.0,464.7 320.1,462.7 323.0,464.9 C325.9,467.1 330.3,471.7 334.0,474.8 C337.7,477.9 343.0,481.9 345.0,483.6 C347.0,485.3 343.5,482.6 346.1,485.0 C348.7,487.4 355.8,493.8 360.4,498.2 C365.0,502.6 369.6,507.0 373.6,511.4 C377.6,515.8 380.9,519.5 384.6,524.6 C388.3,529.7 391.9,536.3 395.6,542.2 C399.3,548.1 402.9,554.5 406.6,559.8 C410.3,565.1 414.3,570.8 417.6,574.1 C420.9,577.4 424.2,578.3 426.4,579.6 C428.6,580.9 428.6,578.9 430.8,581.8 C433.0,584.7 436.3,591.7 439.6,597.2 C442.9,602.7 446.6,609.3 450.6,614.8 C454.6,620.3 459.4,625.1 463.8,630.2 C468.2,635.3 472.8,640.9 477.0,645.6 C481.2,650.3 487.0,656.4 489.0,658.5" stroke="#2165e2" stroke-width="1.35"/>
<path d="M114.8,640.1 C116.2,640.6 120.3,641.8 123.2,643.4 C126.1,645.0 129.4,648.5 132.0,650.0 C134.6,651.5 136.0,653.3 138.6,652.2 C141.2,651.1 144.1,647.4 147.4,643.4 C150.7,639.4 154.7,633.1 158.4,628.0 C162.1,622.9 166.0,616.3 169.4,612.6 C172.8,608.9 174.6,606.7 178.6,606.0 C182.6,605.3 189.6,609.3 193.6,608.2 C197.6,607.1 199.1,604.2 202.4,599.4 C205.7,594.6 209.7,586.6 213.4,579.6 C217.1,572.6 220.7,562.0 224.4,557.6 C228.1,553.2 231.7,554.9 235.4,553.2 C239.1,551.6 243.1,551.4 246.4,547.7 C249.7,544.0 252.3,537.2 255.2,531.2 C258.1,525.2 261.8,517.4 264.0,511.4 C266.2,505.4 266.6,501.5 268.4,495.0 C270.2,488.5 272.8,480.0 275.0,472.6 C277.2,465.2 279.8,456.8 281.6,450.6 C283.4,444.4 284.9,438.5 286.0,435.2 C287.1,431.9 287.1,429.0 288.2,430.8 C289.3,432.6 291.2,441.1 292.6,446.2 C294.0,451.3 294.8,455.6 296.6,461.6 C298.4,467.7 301.0,480.7 303.2,482.5 C305.4,484.3 307.6,476.1 309.8,472.6 C312.0,469.1 313.8,461.6 316.4,461.6 C319.0,461.6 322.6,468.7 325.2,472.6 C327.8,476.5 329.2,479.3 331.8,485.0 C334.4,490.7 337.3,498.9 340.6,507.0 C343.9,515.1 347.9,525.3 351.6,533.4 C355.3,541.5 358.9,548.8 362.6,555.4 C366.3,562.0 369.9,567.9 373.6,573.0 C377.3,578.1 380.9,583.1 384.6,586.2 C388.3,589.3 391.9,590.7 395.6,591.7 C399.3,592.7 402.9,592.8 406.6,592.2 C410.3,591.7 414.3,589.5 417.6,588.4 C420.9,587.3 423.5,584.7 426.4,585.8 C429.3,586.9 432.3,590.9 435.2,595.0 C438.1,599.1 440.7,604.9 444.0,610.4 C447.3,615.9 451.0,622.5 455.0,628.0 C459.0,633.5 464.2,639.0 468.2,643.4 C472.2,647.8 476.1,651.8 479.2,654.4 C482.3,657.0 485.2,658.8 486.9,659.3 C488.5,659.8 488.7,658.0 489.1,657.7" stroke="#3aae3a" stroke-width="1.35"/>
<path d="M125.4,664.0 C126.5,663.1 129.4,660.6 132.0,658.8 C134.6,657.0 138.2,654.6 140.8,653.3 C143.4,652.0 145.2,653.1 147.4,651.1 C149.6,649.1 151.1,645.4 154.0,641.2 C156.9,637.0 160.9,629.8 165.0,625.8 C169.1,621.8 174.9,618.8 178.6,617.0 C182.3,615.2 184.3,615.7 187.0,614.8 C189.7,613.9 192.1,611.5 194.7,611.5 C197.3,611.5 199.7,613.1 202.4,614.8 C205.2,616.4 209.0,619.9 211.2,621.4 C213.4,622.9 213.8,625.4 215.6,623.6 C217.4,621.8 219.3,617.4 222.2,610.4 C225.1,603.4 229.9,590.2 233.2,581.8 C236.5,573.4 239.1,565.5 242.0,559.8 C244.9,554.1 247.1,551.7 250.8,547.7 C254.5,543.7 260.3,539.8 264.0,535.6 C267.7,531.4 269.9,527.2 272.8,522.4 C275.7,517.6 279.1,510.3 281.6,507.0 C284.1,503.7 285.4,504.1 287.6,502.6 C289.8,501.1 292.4,499.9 294.8,498.2 C297.2,496.5 300.4,492.0 302.3,492.7 C304.2,493.4 304.9,498.8 306.5,502.6 C308.1,506.5 310.4,512.3 312.0,515.8 C313.6,519.3 314.6,521.9 316.4,523.5 C318.2,525.1 320.1,523.3 323.0,525.7 C325.9,528.1 330.3,533.9 334.0,537.8 C337.7,541.6 341.3,545.9 345.0,548.8 C348.7,551.7 352.7,552.8 356.0,555.4 C359.3,558.0 361.9,560.5 364.8,564.2 C367.7,567.9 370.7,573.7 373.6,577.4 C376.5,581.1 379.5,583.3 382.4,586.2 C385.3,589.1 388.3,591.3 391.2,595.0 C394.1,598.7 397.1,603.8 400.0,608.2 C402.9,612.6 405.9,617.0 408.8,621.4 C411.7,625.8 415.0,631.7 417.6,634.6 C420.2,637.5 422.0,637.9 424.2,639.0 C426.4,640.1 428.2,639.7 430.8,641.2 C433.4,642.7 437.0,645.2 439.6,647.8 C442.2,650.4 444.0,653.8 446.2,656.6 C448.4,659.4 451.7,663.2 452.8,664.5" stroke="#ff7f0e" stroke-width="1.35"/>
<path d="M170.5,664.5 C171.1,663.4 172.7,659.7 174.0,658.0 C175.3,656.3 175.7,655.2 178.6,654.4 C181.5,653.6 187.8,653.8 191.4,653.3 C195.0,652.8 197.6,652.4 200.2,651.1 C202.8,649.8 204.2,648.9 206.8,645.6 C209.4,642.3 212.7,633.5 215.6,631.3 C218.5,629.1 221.5,633.3 224.4,632.4 C227.3,631.5 229.5,629.8 233.2,625.8 C236.9,621.8 242.0,614.8 246.4,608.2 C250.8,601.6 255.6,593.2 259.6,586.2 C263.6,579.2 267.3,571.5 270.6,566.4 C273.9,561.3 276.6,557.3 279.4,555.4 C282.2,553.5 284.7,554.6 287.6,555.0 C290.5,555.4 294.3,555.7 297.0,557.6 C299.7,559.5 301.8,564.6 303.6,566.4 C305.4,568.2 305.5,566.4 307.6,568.6 C309.7,570.8 313.1,576.7 316.4,579.6 C319.7,582.5 323.4,584.0 327.4,586.2 C331.4,588.4 336.6,591.0 340.6,592.8 C344.6,594.6 347.9,595.4 351.6,597.2 C355.3,599.0 358.9,601.2 362.6,603.8 C366.3,606.4 369.9,608.9 373.6,612.6 C377.3,616.3 380.9,621.4 384.6,625.8 C388.3,630.2 391.6,635.1 395.6,639.0 C399.6,642.9 405.1,646.9 408.8,648.9 C412.5,650.9 414.7,650.7 417.6,651.1 C420.5,651.5 423.5,650.6 426.4,651.1 C429.3,651.6 432.3,652.8 435.2,654.4 C438.1,656.0 442.0,659.3 444.0,661.0 C446.0,662.7 446.8,663.9 447.3,664.5" stroke="#000000" stroke-width="1.25"/>
<path d="M202.4,664.5 C203.9,662.5 207.2,655.9 211.2,652.2 C215.2,648.5 221.5,645.2 226.6,642.3 C231.7,639.4 237.2,638.1 242.0,634.6 C246.8,631.1 250.8,626.9 255.2,621.4 C259.6,615.9 264.4,608.2 268.4,601.6 C272.4,595.0 276.9,586.9 279.4,581.8 C281.9,576.7 282.1,573.7 283.5,571.0 C284.9,568.3 286.0,566.6 287.5,565.4 C289.0,564.2 290.5,565.1 292.4,563.7 C294.3,562.3 296.5,560.5 299.0,557.1 C301.5,553.7 304.9,547.3 307.2,543.1 C309.5,538.9 311.4,534.9 313.0,532.0 C314.6,529.1 314.8,525.8 316.8,526.0 C318.8,526.2 322.3,529.6 325.2,533.4 C328.1,537.2 330.7,542.6 334.0,548.8 C337.3,555.0 341.3,563.5 345.0,570.8 C348.7,578.1 352.3,586.2 356.0,592.8 C359.7,599.4 363.3,604.5 367.0,610.4 C370.7,616.3 374.7,622.1 378.0,628.0 C381.3,633.9 384.2,639.5 386.8,645.6 C389.4,651.7 392.3,661.4 393.4,664.5" stroke="#000000" stroke-width="1.25"/>
<path d="M207.9,664.5 C209.6,662.5 214.3,655.0 217.8,652.2 C221.3,649.4 225.5,648.3 228.8,647.8 C232.1,647.2 234.3,650.4 237.6,648.9 C240.9,647.4 244.6,644.0 248.6,639.0 C252.6,634.0 257.8,625.4 261.8,619.2 C265.8,613.0 268.5,606.1 272.8,601.6 C277.1,597.1 283.6,594.0 287.6,592.4 C291.6,590.8 294.8,592.0 297.0,591.7 C299.2,591.4 297.8,592.4 301.0,590.6 C304.2,588.8 312.4,581.4 316.4,580.7 C320.4,580.0 322.3,582.7 325.2,586.2 C328.1,589.7 330.3,595.7 334.0,601.6 C337.7,607.5 342.8,615.2 347.2,621.4 C351.6,627.6 356.0,633.5 360.4,639.0 C364.8,644.5 369.6,650.1 373.6,654.4 C377.6,658.6 382.8,662.8 384.6,664.5" stroke="#000000" stroke-width="1.25"/>
<path d="M255.2,664.5 C256.3,658.4 259.6,639.6 261.8,628.0 C264.0,616.4 266.2,605.6 268.4,595.0 C270.6,584.4 272.8,572.3 275.0,564.2 C277.2,556.1 279.5,550.3 281.6,546.6 C283.7,542.9 285.4,541.8 287.6,542.2 C289.8,542.6 292.5,544.4 294.8,548.8 C297.1,553.2 299.3,560.9 301.4,568.6 C303.5,576.3 305.5,587.3 307.6,595.0 C309.7,602.7 312.4,611.1 314.2,614.8 C316.0,618.5 316.8,615.2 318.6,617.0 C320.4,618.8 322.6,621.4 325.2,625.8 C327.8,630.2 331.2,636.9 334.0,643.4 C336.8,649.9 340.4,661.0 341.7,664.5" stroke="#000000" stroke-width="1.25"/>
<path d="M242.0,664.5 C243.8,661.7 249.3,653.9 253.0,647.8 C256.7,641.7 260.3,633.5 264.0,628.0 C267.7,622.5 271.1,617.7 275.0,614.8 C278.9,611.9 283.3,609.7 287.6,610.4 C291.9,611.1 296.2,615.9 301.0,619.2 C305.8,622.5 312.4,627.3 316.4,630.2 C320.4,633.1 322.3,633.5 325.2,636.8 C328.1,640.1 331.6,645.4 334.0,650.0 C336.4,654.6 338.6,662.1 339.5,664.5" stroke="#000000" stroke-width="1.25"/>
<path d="M275.0,664.5 C276.1,662.8 279.5,656.8 281.6,654.4 C283.7,652.0 284.7,651.1 287.6,650.0 C290.5,648.9 296.6,648.5 299.2,647.8 C301.8,647.1 300.3,646.5 303.2,645.6 C306.1,644.7 312.7,641.9 316.4,642.3 C320.1,642.7 321.9,644.1 325.2,647.8 C328.5,651.5 334.4,661.7 336.2,664.5" stroke="#000000" stroke-width="1.25"/>
<path d="M313.1,664.5 C313.7,663.5 314.8,659.4 316.4,658.8 C318.0,658.2 321.4,660.0 323.0,661.0 C324.6,662.0 325.8,663.9 326.3,664.5" stroke="#000000" stroke-width="1.25"/>
</g>
<line x1="115.2" y1="412.34" x2="488.9" y2="412.34" stroke="#000" stroke-width="1.6"/>
<rect x="115.2" y="349.4" width="373.70" height="314.70" fill="none" stroke="#000" stroke-width="1.6"/>
<line x1="108.90" y1="349.40" x2="115.2" y2="349.40" stroke="#000" stroke-width="1.4"/>
<line x1="111.90" y1="380.87" x2="115.2" y2="380.87" stroke="#000" stroke-width="1.4"/>
<line x1="108.90" y1="412.34" x2="115.2" y2="412.34" stroke="#000" stroke-width="1.4"/>
<line x1="111.90" y1="443.81" x2="115.2" y2="443.81" stroke="#000" stroke-width="1.4"/>
<line x1="108.90" y1="475.28" x2="115.2" y2="475.28" stroke="#000" stroke-width="1.4"/>
<line x1="111.90" y1="506.75" x2="115.2" y2="506.75" stroke="#000" stroke-width="1.4"/>
<line x1="108.90" y1="538.22" x2="115.2" y2="538.22" stroke="#000" stroke-width="1.4"/>
<line x1="111.90" y1="569.69" x2="115.2" y2="569.69" stroke="#000" stroke-width="1.4"/>
<line x1="108.90" y1="601.16" x2="115.2" y2="601.16" stroke="#000" stroke-width="1.4"/>
<line x1="111.90" y1="632.63" x2="115.2" y2="632.63" stroke="#000" stroke-width="1.4"/>
<line x1="108.90" y1="664.10" x2="115.2" y2="664.10" stroke="#000" stroke-width="1.4"/>
<line x1="115.20" y1="664.1" x2="115.20" y2="669.70" stroke="#000" stroke-width="1.4"/>
<line x1="178.50" y1="664.1" x2="178.50" y2="669.70" stroke="#000" stroke-width="1.4"/>
<line x1="287.50" y1="664.1" x2="287.50" y2="669.70" stroke="#000" stroke-width="1.4"/>
<line x1="316.50" y1="664.1" x2="316.50" y2="669.70" stroke="#000" stroke-width="1.4"/>
<line x1="426.50" y1="664.1" x2="426.50" y2="669.70" stroke="#000" stroke-width="1.4"/>
<line x1="488.90" y1="664.1" x2="488.90" y2="669.70" stroke="#000" stroke-width="1.4"/>
<clipPath id="clipd"><rect x="523.5" y="349.3" width="373.95000000000005" height="314.7"/></clipPath>
<line x1="586.50" y1="349.3" x2="586.50" y2="664.0" stroke="#8c8c8c" stroke-width="1"/>
<line x1="696.50" y1="349.3" x2="696.50" y2="664.0" stroke="#8c8c8c" stroke-width="1"/>
<line x1="725.00" y1="349.3" x2="725.00" y2="664.0" stroke="#8c8c8c" stroke-width="1"/>
<line x1="834.50" y1="349.3" x2="834.50" y2="664.0" stroke="#8c8c8c" stroke-width="1"/>
<g clip-path="url(#clipd)" fill="none" stroke-linejoin="round" stroke-linecap="round">
<path d="M566.4,348.0 C567.1,350.8 569.1,358.7 570.8,364.8 C572.4,370.9 574.5,378.4 576.3,384.6 C578.1,390.8 580.1,397.8 581.8,402.2 C583.5,406.6 584.4,409.7 586.6,411.0 C588.8,412.3 591.8,411.4 595.0,409.9 C598.2,408.4 602.3,406.0 606.0,402.2 C609.7,398.4 613.3,392.3 617.0,386.8 C620.7,381.3 624.3,375.7 628.0,369.2 C631.7,362.7 637.3,351.5 639.2,348.0" stroke="#000000" stroke-width="1.25"/>
<path d="M681.8,348.0 C682.7,352.3 685.5,364.9 687.4,373.6 C689.2,382.3 691.4,393.6 692.9,400.0 C694.4,406.4 695.1,412.4 696.2,411.7 C697.3,411.0 698.5,400.4 699.5,395.6 C700.5,390.8 701.5,386.2 702.5,383.0 C703.5,379.8 704.2,377.9 705.5,376.5 C706.8,375.1 707.9,374.9 710.0,374.5 C712.1,374.1 715.6,374.1 718.0,374.0 C720.4,373.9 722.9,374.1 724.5,373.6 C726.1,373.1 726.5,372.4 727.5,371.0 C728.5,369.6 729.5,367.3 730.5,365.0 C731.5,362.7 732.5,359.8 733.5,357.0 C734.5,354.2 736.2,349.5 736.8,348.0" stroke="#000000" stroke-width="1.25"/>
<path d="M777.8,348.0 C779.5,350.8 784.5,359.4 788.0,364.8 C791.5,370.2 795.3,375.8 799.0,380.2 C802.7,384.6 806.0,387.7 810.0,391.2 C814.0,394.7 819.4,398.9 823.2,401.1 C827.1,403.3 830.5,404.6 833.1,404.4 C835.7,404.2 836.6,404.0 838.6,400.0 C840.6,396.0 843.2,386.4 845.2,380.2 C847.2,374.0 849.0,368.0 850.7,362.6 C852.4,357.2 854.5,350.4 855.3,348.0" stroke="#000000" stroke-width="1.25"/>
<path d="M523.5,636.8 C524.8,636.1 528.5,635.0 531.2,632.4 C534.0,629.8 536.7,626.5 540.0,621.4 C543.3,616.3 547.3,608.9 551.0,601.6 C554.7,594.3 558.3,585.1 562.0,577.4 C565.7,569.7 569.7,561.8 573.0,555.4 C576.3,549.0 579.5,542.3 581.8,538.9 C584.1,535.5 584.4,535.6 586.6,535.2 C588.8,534.8 591.8,535.2 595.0,536.7 C598.2,538.2 602.0,541.6 606.0,544.4 C610.0,547.1 615.4,551.0 619.2,553.2 C623.1,555.4 626.9,557.6 629.1,557.6 C631.3,557.6 630.8,556.9 632.4,553.2 C634.0,549.5 636.4,542.6 639.0,535.6 C641.6,528.6 645.2,518.2 647.8,511.4 C650.4,504.6 651.8,501.5 654.4,495.0 C657.0,488.5 660.3,480.4 663.2,472.6 C666.1,464.8 669.1,455.7 672.0,448.4 C674.9,441.1 677.9,434.1 680.8,428.6 C683.7,423.1 687.0,418.1 689.6,415.4 C692.2,412.6 694.0,412.1 696.2,412.1 C698.4,412.1 700.2,413.0 702.8,415.4 C705.4,417.8 709.1,422.7 711.6,426.4 C714.1,430.1 715.7,433.2 718.0,437.4 C720.3,441.6 723.2,448.9 725.3,451.7 C727.4,454.4 728.4,451.9 730.8,453.9 C733.2,455.9 736.7,460.3 739.6,463.8 C742.5,467.3 744.7,471.3 748.4,474.8 C752.1,478.3 757.6,481.5 761.6,484.7 C765.6,487.9 768.9,490.4 772.6,493.8 C776.3,497.2 779.9,500.4 783.6,504.8 C787.3,509.2 790.9,514.7 794.6,520.2 C798.3,525.7 801.9,531.9 805.6,537.8 C809.3,543.7 812.9,549.2 816.6,555.4 C820.3,561.6 824.7,570.9 827.6,575.2 C830.5,579.5 832.4,580.1 834.2,581.4 C836.0,582.7 836.8,581.0 838.6,582.9 C840.4,584.8 842.6,588.2 845.2,592.8 C847.8,597.4 850.7,604.2 854.0,610.4 C857.3,616.6 861.3,624.0 865.0,630.2 C868.7,636.4 872.7,643.0 876.0,647.8 C879.3,652.6 882.4,656.0 884.8,658.8 C887.2,661.6 889.4,663.5 890.3,664.5" stroke="#2165e2" stroke-width="1.35"/>
<path d="M543.3,664.5 C544.9,662.5 549.7,656.1 553.2,652.2 C556.7,648.3 560.5,644.5 564.2,641.2 C567.9,637.9 571.5,634.8 575.2,632.4 C578.9,630.0 583.3,628.2 586.6,626.9 C589.9,625.6 591.8,626.7 595.0,624.7 C598.2,622.7 602.3,619.8 606.0,614.8 C609.7,609.8 613.7,602.0 617.0,595.0 C620.3,588.0 623.4,578.8 625.8,573.0 C628.2,567.2 628.7,562.2 631.3,560.2 C633.9,558.2 637.4,561.3 641.2,560.9 C645.1,560.5 650.7,559.2 654.4,557.6 C658.1,556.0 660.6,553.9 663.2,551.0 C665.8,548.1 667.6,545.1 669.8,540.0 C672.0,534.9 674.6,526.8 676.4,520.2 C678.2,513.6 679.6,506.3 680.8,500.4 C682.0,494.5 682.4,491.1 683.5,485.0 C684.6,478.9 685.8,472.1 687.4,463.8 C689.0,455.5 691.4,442.7 692.9,435.2 C694.4,427.7 694.9,418.0 696.2,418.7 C697.5,419.4 699.1,432.5 700.6,439.6 C702.1,446.8 703.5,455.0 705.0,461.6 C706.5,468.2 707.9,477.0 709.4,479.2 C710.9,481.4 712.4,476.6 713.8,474.8 C715.2,473.0 716.1,472.1 718.0,468.2 C719.9,464.3 722.8,453.2 725.3,451.7 C727.8,450.2 730.6,455.8 733.0,459.4 C735.4,462.9 737.6,468.4 739.6,473.0 C741.6,477.6 742.8,481.3 745.0,487.0 C747.2,492.7 749.7,499.3 752.8,507.0 C755.9,514.7 760.1,525.0 763.8,533.4 C767.5,541.8 771.1,550.3 774.8,557.6 C778.5,564.9 782.1,571.5 785.8,577.4 C789.5,583.3 793.1,589.2 796.8,592.8 C800.5,596.4 804.1,598.3 807.8,599.0 C811.5,599.7 815.5,598.6 818.8,597.2 C822.1,595.8 825.0,592.4 827.6,590.6 C830.2,588.8 832.0,586.6 834.2,586.6 C836.4,586.6 838.2,587.0 840.8,590.6 C843.4,594.2 846.3,602.0 849.6,608.2 C852.9,614.4 856.9,621.8 860.6,628.0 C864.3,634.2 868.3,640.8 871.6,645.6 C874.9,650.4 877.8,653.5 880.4,656.6 C883.0,659.8 885.9,663.2 887.0,664.5" stroke="#3aae3a" stroke-width="1.35"/>
<path d="M574.1,664.5 C575.4,663.5 579.7,660.0 581.8,658.8 C583.9,657.6 584.0,657.5 586.6,657.3 C589.2,657.1 593.2,657.6 597.2,657.7 C601.2,657.8 606.7,658.6 610.4,657.7 C614.1,656.8 616.3,654.6 619.2,652.2 C622.1,649.8 624.7,647.4 628.0,643.4 C631.3,639.4 635.7,633.9 639.0,628.0 C642.3,622.1 645.2,615.2 647.8,608.2 C650.4,601.2 651.8,595.0 654.4,586.2 C657.0,577.4 660.3,563.1 663.2,555.4 C666.1,547.7 669.1,545.5 672.0,540.0 C674.9,534.5 677.9,528.6 680.8,522.4 C683.7,516.2 687.0,507.2 689.6,502.6 C692.2,498.0 694.0,496.5 696.2,494.9 C698.4,493.2 700.8,494.0 702.8,492.7 C704.8,491.4 706.8,485.1 708.3,486.8 C709.8,488.5 710.3,497.0 711.6,502.6 C712.9,508.2 714.8,515.8 716.0,520.2 C717.2,524.6 717.3,524.2 718.7,529.0 C720.1,533.8 722.2,545.1 724.2,548.8 C726.2,552.5 728.2,549.2 730.8,551.0 C733.4,552.8 736.3,555.4 739.6,559.8 C742.9,564.2 746.6,570.8 750.6,577.4 C754.6,584.0 759.8,593.5 763.8,599.4 C767.8,605.3 770.8,608.6 774.8,612.6 C778.8,616.6 784.0,619.9 788.0,623.6 C792.0,627.3 795.3,630.6 799.0,634.6 C802.7,638.6 806.0,642.8 810.0,647.8 C814.0,652.8 821.0,661.7 823.2,664.5" stroke="#ff7f0e" stroke-width="1.35"/>
<path d="M622.5,664.5 C624.1,662.5 628.5,658.7 632.4,652.2 C636.2,645.8 641.2,634.6 645.6,625.8 C650.0,617.0 654.4,608.2 658.8,599.4 C663.2,590.6 668.0,580.0 672.0,573.0 C676.0,566.0 679.0,561.3 683.0,557.6 C687.0,553.9 692.2,551.2 696.2,551.0 C700.2,550.8 703.9,554.0 707.2,556.5 C710.5,559.0 713.0,562.5 716.0,566.0 C719.0,569.5 721.7,574.4 724.9,577.4 C728.1,580.4 731.3,580.3 735.2,584.0 C739.1,587.7 744.0,593.2 748.4,599.4 C752.8,605.6 757.6,614.1 761.6,621.4 C765.6,628.7 769.5,636.2 772.6,643.4 C775.7,650.6 779.0,661.0 780.3,664.5" stroke="#000000" stroke-width="1.25"/>
<path d="M632.4,664.5 C634.6,662.8 640.8,658.6 645.6,654.4 C650.4,650.1 656.2,644.5 661.0,639.0 C665.8,633.5 669.8,628.0 674.2,621.4 C678.6,614.8 683.7,604.3 687.4,599.4 C691.1,594.5 692.9,593.4 696.2,591.7 C699.5,590.1 704.7,590.2 707.2,589.5 C709.7,588.8 708.0,589.4 711.0,587.3 C714.0,585.2 720.9,576.8 724.9,577.0 C728.9,577.2 731.7,583.2 735.2,588.4 C738.8,593.6 742.2,600.5 746.2,608.2 C750.2,615.9 754.3,625.2 759.4,634.6 C764.5,644.0 774.1,659.5 777.0,664.5" stroke="#000000" stroke-width="1.25"/>
<path d="M661.0,664.5 C662.8,662.5 668.7,656.5 672.0,652.2 C675.3,648.0 677.9,643.4 680.8,639.0 C683.7,634.6 687.0,628.8 689.6,625.8 C692.2,622.8 694.0,622.8 696.2,621.0 C698.4,619.2 700.0,621.0 702.8,614.8 C705.6,608.6 709.5,593.5 713.2,584.0 C716.9,574.5 721.2,560.5 724.9,557.6 C728.6,554.7 731.3,561.6 735.2,566.4 C739.1,571.2 744.0,579.6 748.4,586.2 C752.8,592.8 757.2,601.2 761.6,606.0 C766.0,610.8 770.4,611.1 774.8,614.8 C779.2,618.5 783.6,622.9 788.0,628.0 C792.4,633.1 797.2,639.5 801.2,645.6 C805.2,651.7 810.4,661.4 812.2,664.5" stroke="#000000" stroke-width="1.25"/>
<path d="M673.1,664.5 C674.8,661.7 679.1,651.7 683.0,647.8 C686.9,643.9 692.5,641.6 696.2,641.2 C699.9,640.8 702.9,644.5 705.0,645.6 C707.1,646.7 707.3,645.6 708.8,647.8 C710.3,650.0 712.4,656.0 713.8,658.8 C715.2,661.6 716.5,663.5 717.1,664.5" stroke="#000000" stroke-width="1.25"/>
<path d="M678.6,664.5 C680.1,662.1 684.5,653.4 687.4,650.0 C690.3,646.6 693.3,643.9 696.2,643.9 C699.1,643.9 702.4,646.6 705.0,650.0 C707.6,653.4 710.5,662.1 711.6,664.5" stroke="#000000" stroke-width="1.25"/>
</g>
<line x1="523.5" y1="412.24" x2="897.45" y2="412.24" stroke="#000" stroke-width="1.6"/>
<rect x="523.5" y="349.3" width="373.95" height="314.70" fill="none" stroke="#000" stroke-width="1.6"/>
<line x1="517.20" y1="349.30" x2="523.5" y2="349.30" stroke="#000" stroke-width="1.4"/>
<line x1="520.20" y1="380.77" x2="523.5" y2="380.77" stroke="#000" stroke-width="1.4"/>
<line x1="517.20" y1="412.24" x2="523.5" y2="412.24" stroke="#000" stroke-width="1.4"/>
<line x1="520.20" y1="443.71" x2="523.5" y2="443.71" stroke="#000" stroke-width="1.4"/>
<line x1="517.20" y1="475.18" x2="523.5" y2="475.18" stroke="#000" stroke-width="1.4"/>
<line x1="520.20" y1="506.65" x2="523.5" y2="506.65" stroke="#000" stroke-width="1.4"/>
<line x1="517.20" y1="538.12" x2="523.5" y2="538.12" stroke="#000" stroke-width="1.4"/>
<line x1="520.20" y1="569.59" x2="523.5" y2="569.59" stroke="#000" stroke-width="1.4"/>
<line x1="517.20" y1="601.06" x2="523.5" y2="601.06" stroke="#000" stroke-width="1.4"/>
<line x1="520.20" y1="632.53" x2="523.5" y2="632.53" stroke="#000" stroke-width="1.4"/>
<line x1="517.20" y1="664.00" x2="523.5" y2="664.00" stroke="#000" stroke-width="1.4"/>
<line x1="523.50" y1="664.0" x2="523.50" y2="669.60" stroke="#000" stroke-width="1.4"/>
<line x1="586.50" y1="664.0" x2="586.50" y2="669.60" stroke="#000" stroke-width="1.4"/>
<line x1="696.50" y1="664.0" x2="696.50" y2="669.60" stroke="#000" stroke-width="1.4"/>
<line x1="725.00" y1="664.0" x2="725.00" y2="669.60" stroke="#000" stroke-width="1.4"/>
<line x1="834.50" y1="664.0" x2="834.50" y2="669.60" stroke="#000" stroke-width="1.4"/>
<line x1="897.45" y1="664.0" x2="897.45" y2="669.60" stroke="#000" stroke-width="1.4"/>
<text transform="translate(66.98,21.09) scale(0.2915,0.2567)" font-size="100" font-family="'Liberation Serif', 'DejaVu Serif', serif" class="t">0.5</text>
<text transform="translate(66.98,84.58) scale(0.2915,0.2582)" font-size="100" font-family="'Liberation Serif', 'DejaVu Serif', serif" class="t">0.0</text>
<text transform="translate(66.98,147.41) scale(0.2915,0.2463)" font-size="100" font-family="'Liberation Serif', 'DejaVu Serif', serif" class="t">0.5</text>
<rect x="47.5" y="140.05" width="16.50" height="1.5" fill="#000"/>
<text transform="translate(66.98,210.99) scale(0.2915,0.2544)" font-size="100" font-family="'Liberation Serif', 'DejaVu Serif', serif" class="t">1.0</text>
<rect x="47.5" y="203.25" width="16.50" height="1.5" fill="#000"/>
<text transform="translate(66.98,274.25) scale(0.2915,0.2537)" font-size="100" font-family="'Liberation Serif', 'DejaVu Serif', serif" class="t">1.5</text>
<rect x="47.5" y="266.75" width="16.50" height="1.5" fill="#000"/>
<text transform="translate(66.98,332.79) scale(0.2915,0.2537)" font-size="100" font-family="'Liberation Serif', 'DejaVu Serif', serif" class="t">2.0</text>
<rect x="47.5" y="325.65" width="16.50" height="1.5" fill="#000"/>
<text transform="translate(66.73,356.48) scale(0.2915,0.2582)" font-size="100" font-family="'Liberation Serif', 'DejaVu Serif', serif" class="t">0.5</text>
<text transform="translate(66.73,420.08) scale(0.2915,0.2582)" font-size="100" font-family="'Liberation Serif', 'DejaVu Serif', serif" class="t">0.0</text>
<text transform="translate(66.73,482.90) scale(0.2915,0.2507)" font-size="100" font-family="'Liberation Serif', 'DejaVu Serif', serif" class="t">0.5</text>
<rect x="47.1" y="475.85" width="16.80" height="1.5" fill="#000"/>
<text transform="translate(66.73,546.19) scale(0.2915,0.2544)" font-size="100" font-family="'Liberation Serif', 'DejaVu Serif', serif" class="t">1.0</text>
<rect x="47.1" y="538.85" width="16.80" height="1.5" fill="#000"/>
<text transform="translate(66.73,609.25) scale(0.2915,0.2537)" font-size="100" font-family="'Liberation Serif', 'DejaVu Serif', serif" class="t">1.5</text>
<rect x="47.1" y="601.65" width="16.80" height="1.5" fill="#000"/>
<text transform="translate(66.73,672.58) scale(0.2915,0.2582)" font-size="100" font-family="'Liberation Serif', 'DejaVu Serif', serif" class="t">2.0</text>
<rect x="47.1" y="665.25" width="16.80" height="1.5" fill="#000"/>
<text transform="translate(28.90,316.98) rotate(-90) scale(0.3584,0.3046)" font-size="100" font-family="'Liberation Serif', 'DejaVu Serif', serif" class="t">Binding energy (eV)</text>
<text transform="translate(24.40,655.97) rotate(-90) scale(0.3568,0.3000)" font-size="100" font-family="'Liberation Serif', 'DejaVu Serif', serif" class="t">Binding energy (eV)</text>
<text transform="translate(102.91,699.80) scale(0.3111,0.2692)" font-size="100" font-style="italic" fill="#000" font-family="'Liberation Serif', 'DejaVu Serif', serif" class="t" >K</text>
<text transform="translate(163.20,699.80) scale(0.2966,0.2692)" font-size="100" font-style="italic" fill="#000" font-family="'Liberation Serif', 'DejaVu Serif', serif" class="t" >M</text>
<text transform="translate(277.39,699.80) scale(0.2934,0.2692)" font-size="100" font-style="italic" fill="#000" font-family="'Liberation Serif', 'DejaVu Serif', serif" class="t" >Γ</text>
<text transform="translate(305.72,700.08) scale(0.2848,0.2769)" font-size="100" font-style="italic" fill="#000" font-family="'Liberation Serif', 'DejaVu Serif', serif" class="t" >A</text>
<text transform="translate(416.32,699.80) scale(0.3250,0.2692)" font-size="100" font-style="italic" fill="#000" font-family="'Liberation Serif', 'DejaVu Serif', serif" class="t" >L</text>
<text transform="translate(475.38,699.80) scale(0.2808,0.2692)" font-size="100" font-style="italic" fill="#000" font-family="'Liberation Serif', 'DejaVu Serif', serif" class="t" >H</text>
<text transform="translate(512.20,699.80) scale(0.3028,0.2692)" font-size="100" font-style="italic" fill="#000" font-family="'Liberation Serif', 'DejaVu Serif', serif" class="t" >K</text>
<text transform="translate(572.19,699.80) scale(0.2899,0.2692)" font-size="100" font-style="italic" fill="#000" font-family="'Liberation Serif', 'DejaVu Serif', serif" class="t" >M</text>
<text transform="translate(686.41,699.80) scale(0.3066,0.2692)" font-size="100" font-style="italic" fill="#000" font-family="'Liberation Serif', 'DejaVu Serif', serif" class="t" >Γ</text>
<text transform="translate(714.72,700.08) scale(0.2848,0.2769)" font-size="100" font-style="italic" fill="#000" font-family="'Liberation Serif', 'DejaVu Serif', serif" class="t" >A</text>
<text transform="translate(825.62,699.80) scale(0.3231,0.2692)" font-size="100" font-style="italic" fill="#000" font-family="'Liberation Serif', 'DejaVu Serif', serif" class="t" >L</text>
<text transform="translate(884.58,699.80) scale(0.2846,0.2692)" font-size="100" font-style="italic" fill="#000" font-family="'Liberation Serif', 'DejaVu Serif', serif" class="t" >H</text>
<text transform="translate(126.08,61.93) scale(0.3049,0.2889)" font-size="100" font-style="normal" fill="#000" font-family="'Liberation Serif', 'DejaVu Serif', serif" class="t" >(a)</text>
<text transform="translate(533.57,61.93) scale(0.3083,0.2889)" font-size="100" font-style="normal" fill="#000" font-family="'Liberation Serif', 'DejaVu Serif', serif" class="t" >(b)</text>
<text transform="translate(126.15,403.30) scale(0.2883,0.2811)" font-size="100" font-style="normal" fill="#000" font-family="'Liberation Serif', 'DejaVu Serif', serif" class="t" >(c)</text>
<text transform="translate(533.79,403.30) scale(0.3019,0.2811)" font-size="100" font-style="normal" fill="#000" font-family="'Liberation Serif', 'DejaVu Serif', serif" class="t" >(d)</text>
<text transform="translate(296.94,61.60) scale(0.3186,0.2600)" font-size="100" font-style="italic" fill="#000" font-family="'Liberation Serif', 'DejaVu Serif', serif" class="t" >λ</text>
<text transform="translate(325.87,64.90) scale(0.3851,0.3000)" font-size="100" font-style="normal" fill="#000" font-family="'Liberation Serif', 'DejaVu Serif', serif" class="t" >=</text>
<text transform="translate(362.02,61.10) scale(0.2949,0.2522)" font-size="100" font-style="normal" fill="#000" font-family="'Liberation Serif', 'DejaVu Serif', serif" class="t" >0.0</text>
<text transform="translate(704.25,61.60) scale(0.3256,0.2514)" font-size="100" font-style="italic" fill="#000" font-family="'Liberation Serif', 'DejaVu Serif', serif" class="t" >λ</text>
<text transform="translate(732.82,64.52) scale(0.3957,0.2960)" font-size="100" font-style="normal" fill="#000" font-family="'Liberation Serif', 'DejaVu Serif', serif" class="t" >=</text>
<text transform="translate(769.65,61.10) scale(0.2868,0.2493)" font-size="100" font-style="normal" fill="#000" font-family="'Liberation Serif', 'DejaVu Serif', serif" class="t" >0.25</text>
<text transform="translate(296.94,403.20) scale(0.3186,0.2586)" font-size="100" font-style="italic" fill="#000" font-family="'Liberation Serif', 'DejaVu Serif', serif" class="t" >λ</text>
<text transform="translate(325.87,406.13) scale(0.3851,0.2920)" font-size="100" font-style="normal" fill="#000" font-family="'Liberation Serif', 'DejaVu Serif', serif" class="t" >=</text>
<text transform="translate(362.04,402.69) scale(0.2897,0.2567)" font-size="100" font-style="normal" fill="#000" font-family="'Liberation Serif', 'DejaVu Serif', serif" class="t" >0.5</text>
<text transform="translate(701.55,403.10) scale(0.3233,0.2643)" font-size="100" font-style="italic" fill="#000" font-family="'Liberation Serif', 'DejaVu Serif', serif" class="t" >λ</text>
<text transform="translate(730.04,405.93) scale(0.3915,0.2920)" font-size="100" font-style="normal" fill="#000" font-family="'Liberation Serif', 'DejaVu Serif', serif" class="t" >=</text>
<text transform="translate(766.25,402.59) scale(0.2946,0.2529)" font-size="100" font-style="normal" fill="#000" font-family="'Liberation Serif', 'DejaVu Serif', serif" class="t" >1.0</text>
<line x1="233.2" y1="117.5" x2="257.5" y2="117.5" stroke="#2165e2" stroke-width="1.4"/>
<path d="M271.5,117.5 L255.5,122.0 L258.5,117.5 L255.5,113.0Z" fill="#2165e2"/>
<text transform="translate(208.42,123.62) scale(0.1927,0.1773)" font-size="100" font-style="normal" fill="#2165e2" font-family="'Liberation Serif', 'DejaVu Serif', serif" class="t" >B3</text>
<line x1="237.1" y1="165.0" x2="261.6" y2="165.0" stroke="#ff7f0e" stroke-width="1.4"/>
<path d="M275.6,165.0 L259.6,169.4 L262.6,165.0 L259.6,160.6Z" fill="#ff7f0e"/>
<text transform="translate(215.04,169.50) scale(0.1870,0.1727)" font-size="100" font-style="normal" fill="#ff7f0e" font-family="'Liberation Serif', 'DejaVu Serif', serif" class="t" >B1</text>
<line x1="371.2" y1="152.6" x2="347.3" y2="152.6" stroke="#3aae3a" stroke-width="1.4"/>
<path d="M333.3,152.6 L349.3,148.0 L346.3,152.6 L349.3,157.2Z" fill="#3aae3a"/>
<text transform="translate(372.42,158.30) scale(0.1944,0.1615)" font-size="100" font-style="normal" fill="#3aae3a" font-family="'Liberation Serif', 'DejaVu Serif', serif" class="t" >B2</text>
<line x1="303.2" y1="100.2" x2="298.1" y2="107.5" stroke="#c8102e" stroke-width="1.3"/>
<path d="M294.4,112.8 L295.8,103.4 L297.5,108.3 L302.7,108.2Z" fill="#c8102e"/>
<line x1="328.2" y1="121.2" x2="323.3" y2="128.4" stroke="#c8102e" stroke-width="1.3"/>
<path d="M319.6,133.8 L320.9,124.4 L322.7,129.3 L327.9,129.1Z" fill="#c8102e"/>
<circle cx="292.5" cy="115.6" r="2.8" fill="#c8102e"/>
<circle cx="317.8" cy="136.9" r="2.8" fill="#c8102e"/>
<text transform="translate(296.10,97.60) scale(0.2010,0.1606)" font-size="100" font-style="normal" fill="#000" font-family="'Liberation Serif', 'DejaVu Serif', serif" class="t" >P1</text>
<text transform="translate(322.07,118.40) scale(0.2093,0.1569)" font-size="100" font-style="normal" fill="#000" font-family="'Liberation Serif', 'DejaVu Serif', serif" class="t" >P2</text>
<defs>
<linearGradient id="arrowShaft" x1="0" x2="1" y1="0" y2="0"><stop offset="0" stop-color="#dfe5f7"/><stop offset="1" stop-color="#8ea2e1"/></linearGradient>
<linearGradient id="arrowHead" x1="0" x2="1" y1="0" y2="0"><stop offset="0" stop-color="#90a4e2"/><stop offset="1" stop-color="#d5ddf5"/></linearGradient>
</defs>
<path d="M419.4,861.9 L510.5,846.6 L510.5,890.8 L419.4,875.3 Z" fill="url(#arrowShaft)"/>
<path d="M510.5,832.8 L557.4,868.4 L510.5,904 Z" fill="url(#arrowHead)"/>
<text transform="translate(464.24,876.41) scale(0.2940,0.2448)" font-size="100" font-style="normal" fill="#fff" font-family="'Liberation Serif', 'DejaVu Serif', serif" class="" >SOC</text>
<text transform="translate(169.55,764.90) scale(0.2883,0.2811)" font-size="100" font-style="normal" fill="#000" font-family="'Liberation Serif', 'DejaVu Serif', serif" class="t" >(e)</text>
<text transform="translate(205.90,1013.80) scale(0.3048,0.2507)" font-size="100" font-style="normal" fill="#000" font-family="'Liberation Serif', 'DejaVu Serif', serif" class="t" >Without SOC</text>
<text transform="translate(653.09,1014.07) scale(0.2902,0.2662)" font-size="100" font-style="normal" fill="#000" font-family="'Liberation Serif', 'DejaVu Serif', serif" class="t" >100% SOC</text>
<text transform="translate(724.02,828.34) scale(0.2935,0.2561)" font-size="100" font-style="normal" fill="#000" font-family="'Liberation Serif', 'DejaVu Serif', serif" class="t" >Dirac</text>
<text transform="translate(724.30,856.82) scale(0.2992,0.2419)" font-size="100" font-style="normal" fill="#000" font-family="'Liberation Serif', 'DejaVu Serif', serif" class="t" >points</text>
</svg>
<div style="position:absolute;left:178px;top:858px;width:221px;height:126px;clip-path:polygon(110.30px 2.50px,218.30px 112.80px,218.15px 113.37px,217.71px 113.93px,216.97px 114.49px,215.94px 115.05px,214.62px 115.60px,213.02px 116.14px,211.13px 116.67px,208.97px 117.19px,206.54px 117.70px,203.84px 118.20px,200.89px 118.68px,197.69px 119.15px,194.25px 119.60px,190.59px 120.03px,186.70px 120.44px,182.60px 120.83px,178.30px 121.19px,173.82px 121.54px,169.17px 121.86px,164.35px 122.15px,159.39px 122.42px,154.29px 122.67px,149.07px 122.88px,143.74px 123.07px,138.33px 123.23px,132.83px 123.36px,127.28px 123.47px,121.68px 123.54px,116.05px 123.59px,110.40px 123.60px,104.75px 123.59px,99.12px 123.54px,93.52px 123.47px,87.97px 123.36px,82.47px 123.23px,77.06px 123.07px,71.73px 122.88px,66.51px 122.67px,61.41px 122.42px,56.45px 122.15px,51.63px 121.86px,46.98px 121.54px,42.50px 121.19px,38.20px 120.83px,34.10px 120.44px,30.21px 120.03px,26.55px 119.60px,23.11px 119.15px,19.91px 118.68px,16.96px 118.20px,14.26px 117.70px,11.83px 117.19px,9.67px 116.67px,7.78px 116.14px,6.18px 115.60px,4.86px 115.05px,3.83px 114.49px,3.09px 113.93px,2.65px 113.37px,2.50px 112.80px);background:conic-gradient(from 0deg at 110.30px 2.50px, #2a2a88 135.604deg, #2a2a88 135.775deg, #2a2a88 136.015deg, #2a2a88 136.323deg, #2a2a88 136.700deg, #2a2a88 137.146deg, #2a2a88 137.662deg, #2a2a88 138.250deg, #2a2a88 138.911deg, #2a2a88 139.647deg, #2a2a88 140.459deg, #2a2a88 141.350deg, #2a2a88 142.322deg, #2b2b88 143.377deg, #2b2b89 144.518deg, #2b2b89 145.747deg, #2b2b89 147.066deg, #2c2c8a 148.477deg, #2d2d8b 149.982deg, #2e2e8c 151.583deg, #30308d 153.279deg, #32328f 155.072deg, #343491 156.959deg, #383894 158.940deg, #3c3c99 161.010deg, #43439f 163.166deg, #4e4ea9 165.401deg, #5d5db6 167.707deg, #7171c8 170.076deg, #8585da 172.498deg, #9090e4 174.960deg, #9090e4 177.449deg, #8f8fe3 179.953deg, #7c7cd2 182.456deg, #6767bf 184.946deg, #5555af 187.409deg, #4848a3 189.832deg, #3f3f9b 192.202deg, #393996 194.510deg, #353592 196.747deg, #32328f 198.905deg, #30308d 200.977deg, #2e2e8c 202.960deg, #2d2d8b 204.850deg, #2c2c8a 206.644deg, #2b2b89 208.343deg, #2b2b89 209.945deg, #2b2b89 211.453deg, #2a2a88 212.866deg, #2a2a88 214.187deg, #2a2a88 215.417deg, #2a2a88 216.560deg, #2a2a88 217.616deg, #2a2a88 218.589deg, #2a2a88 219.482deg, #2a2a88 220.295deg, #2a2a88 221.032deg, #2a2a88 221.694deg, #2a2a88 222.282deg, #2a2a88 222.799deg, #2a2a88 223.246deg, #2a2a88 223.623deg, #2a2a88 223.931deg, #2a2a88 224.171deg, #2a2a88 224.343deg);"></div>
<div style="position:absolute;left:180.50px;top:959.90px;width:215.80px;height:21.80px;border-radius:50%;background:linear-gradient(90deg,#3e3e98 0%,#4a4aa2 25%,#6a6ab8 42%,#7878c2 50%,#7070be 58%,#5858aa 72%,#4a4a9e 88%,#48489a 100%);"></div>
<div style="position:absolute;left:223px;top:746px;width:130px;height:79px;clip-path:polygon(65.30px 76.20px,127.70px 2.50px,127.61px 2.83px,127.36px 3.16px,126.93px 3.49px,126.33px 3.81px,125.57px 4.13px,124.64px 4.45px,123.54px 4.76px,122.29px 5.06px,120.88px 5.36px,119.31px 5.65px,117.60px 5.93px,115.74px 6.20px,113.75px 6.46px,111.62px 6.72px,109.36px 6.95px,106.99px 7.18px,104.50px 7.40px,101.90px 7.60px,99.19px 7.78px,96.40px 7.96px,93.52px 8.11px,90.56px 8.26px,87.53px 8.38px,84.44px 8.49px,81.30px 8.59px,78.12px 8.66px,74.89px 8.72px,71.64px 8.77px,68.38px 8.79px,65.10px 8.80px,61.82px 8.79px,58.56px 8.77px,55.31px 8.72px,52.08px 8.66px,48.90px 8.59px,45.76px 8.49px,42.67px 8.38px,39.64px 8.26px,36.68px 8.11px,33.80px 7.96px,31.01px 7.78px,28.30px 7.60px,25.70px 7.40px,23.21px 7.18px,20.84px 6.95px,18.58px 6.72px,16.45px 6.46px,14.46px 6.20px,12.60px 5.93px,10.89px 5.65px,9.32px 5.36px,7.91px 5.06px,6.66px 4.76px,5.56px 4.45px,4.63px 4.13px,3.87px 3.81px,3.27px 3.49px,2.84px 3.16px,2.59px 2.83px,2.50px 2.50px);background:conic-gradient(from 270deg at 65.30px 76.20px, #929292 49.464deg, #929292 49.481deg, #929292 49.515deg, #929292 49.566deg, #929292 49.637deg, #929292 49.830deg, #929292 50.095deg, #929292 50.435deg, #929292 50.852deg, #929292 51.348deg, #929292 51.926deg, #939393 52.589deg, #939393 53.340deg, #939393 54.182deg, #939393 55.119deg, #949494 56.156deg, #949494 57.294deg, #959595 58.538deg, #959595 59.891deg, #969696 61.357deg, #969696 62.936deg, #979797 64.632deg, #979797 66.444deg, #989898 68.371deg, #999999 70.411deg, #999999 72.560deg, #9b9b9b 74.811deg, #ababab 77.156deg, #c9c9c9 79.583deg, #e8e8e8 82.081deg, #fcfcfc 84.632deg, #fefefe 87.221deg, #fefefe 89.830deg, #fefefe 92.439deg, #ededed 95.031deg, #d0d0d0 97.586deg, #b1b1b1 100.088deg, #9e9e9e 102.521deg, #9c9c9c 104.873deg, #9b9b9b 107.132deg, #9b9b9b 109.289deg, #9a9a9a 111.337deg, #999999 113.273deg, #999999 115.093deg, #989898 116.797deg, #989898 118.385deg, #979797 119.859deg, #979797 121.220deg, #969696 122.471deg, #969696 123.616deg, #959595 124.659deg, #959595 125.602deg, #959595 126.450deg, #959595 127.206deg, #949494 127.873deg, #949494 128.455deg, #949494 128.954deg, #949494 129.374deg, #949494 129.717deg, #949494 129.985deg, #949494 130.179deg, #949494 130.254deg, #949494 130.302deg, #949494 130.338deg, #949494 130.355deg);"></div>
<div style="position:absolute;left:225.50px;top:742.10px;width:125.20px;height:12.80px;border-radius:50%;background:linear-gradient(90deg,#a6a6a6 0%,#b4b4b4 20%,#d8d8d8 32%,#fafafa 40%,#fbfbfb 62%,#dedede 72%,#c4c4c4 85%,#b9b9b9 100%);"></div>
<div style="position:absolute;left:597px;top:835px;width:215px;height:150px;clip-path:polygon(107.50px 2.50px,212.50px 132.50px,212.36px 133.29px,211.92px 134.07px,211.20px 134.85px,210.20px 135.62px,208.92px 136.38px,207.35px 137.14px,205.51px 137.88px,203.40px 138.60px,201.03px 139.31px,198.41px 140.00px,195.53px 140.67px,192.41px 141.32px,189.06px 141.94px,185.48px 142.54px,181.69px 143.11px,177.69px 143.65px,173.50px 144.16px,169.14px 144.64px,164.60px 145.08px,159.90px 145.49px,155.06px 145.87px,150.09px 146.20px,145.00px 146.50px,139.81px 146.77px,134.53px 146.99px,129.17px 147.17px,123.76px 147.32px,118.30px 147.42px,112.81px 147.48px,107.30px 147.50px,101.79px 147.48px,96.30px 147.42px,90.84px 147.32px,85.43px 147.17px,80.07px 146.99px,74.79px 146.77px,69.60px 146.50px,64.51px 146.20px,59.54px 145.87px,54.70px 145.49px,50.00px 145.08px,45.46px 144.64px,41.10px 144.16px,36.91px 143.65px,32.91px 143.11px,29.12px 142.54px,25.54px 141.94px,22.19px 141.32px,19.07px 140.67px,16.19px 140.00px,13.57px 139.31px,11.20px 138.60px,9.09px 137.88px,7.25px 137.14px,5.68px 136.38px,4.40px 135.62px,3.40px 134.85px,2.68px 134.07px,2.24px 133.29px,2.10px 132.50px);background:conic-gradient(from 0deg at 107.50px 2.50px, #282886 141.072deg, #282886 141.264deg, #282886 141.522deg, #282886 141.846deg, #282886 142.235deg, #282886 142.690deg, #282886 143.211deg, #282886 143.798deg, #282886 144.453deg, #282886 145.175deg, #282886 145.965deg, #282886 146.824deg, #282886 147.753deg, #282886 148.753deg, #282886 149.824deg, #292986 150.967deg, #292987 152.183deg, #292987 153.470deg, #292987 154.830deg, #2a2a87 156.262deg, #2b2b88 157.764deg, #2b2b88 159.335deg, #2d2d89 160.974deg, #2e2e8a 162.676deg, #30308b 164.440deg, #33338d 166.260deg, #383890 168.131deg, #3e3e94 170.049deg, #47479a 172.006deg, #5151a1 173.995deg, #5b5ba7 176.009deg, #6262ac 178.040deg, #6262ac 180.079deg, #6262ac 182.118deg, #5b5ba7 184.148deg, #5151a1 186.162deg, #47479a 188.150deg, #3e3e94 190.105deg, #383890 192.021deg, #33338d 193.890deg, #30308b 195.708deg, #2e2e8a 197.469deg, #2d2d89 199.169deg, #2b2b88 200.805deg, #2b2b88 202.374deg, #2a2a87 203.873deg, #292987 205.302deg, #292987 206.659deg, #292987 207.945deg, #292986 209.157deg, #282886 210.298deg, #282886 211.367deg, #282886 212.365deg, #282886 213.292deg, #282886 214.150deg, #282886 214.939deg, #282886 215.659deg, #282886 216.312deg, #282886 216.898deg, #282886 217.418deg, #282886 217.873deg, #282886 218.261deg, #282886 218.585deg, #282886 218.842deg, #282886 219.034deg);"></div>
<div style="position:absolute;left:599.10px;top:952.30px;width:210.40px;height:30.20px;border-radius:50%;background:linear-gradient(90deg,#44449a 0%,#4a4a9e 30%,#5a5aa8 48%,#5454a4 60%,#4a4a9c 80%,#47479a 100%);"></div>
<div style="position:absolute;left:650px;top:750px;width:110px;height:87px;clip-path:polygon(54.70px 85.00px,107.20px 2.00px,107.13px 2.38px,106.91px 2.76px,106.55px 3.14px,106.05px 3.52px,105.41px 3.89px,104.63px 4.26px,103.71px 4.62px,102.65px 4.97px,101.47px 5.31px,100.15px 5.65px,98.71px 5.98px,97.15px 6.29px,95.48px 6.59px,93.69px 6.88px,91.79px 7.16px,89.80px 7.42px,87.70px 7.67px,85.52px 7.91px,83.25px 8.12px,80.90px 8.32px,78.48px 8.50px,75.99px 8.67px,73.45px 8.82px,70.85px 8.94px,68.21px 9.05px,65.54px 9.14px,62.83px 9.21px,60.10px 9.26px,57.35px 9.29px,54.60px 9.30px,51.85px 9.29px,49.10px 9.26px,46.37px 9.21px,43.66px 9.14px,40.99px 9.05px,38.35px 8.94px,35.75px 8.82px,33.21px 8.67px,30.72px 8.50px,28.30px 8.32px,25.95px 8.12px,23.68px 7.91px,21.50px 7.67px,19.40px 7.42px,17.41px 7.16px,15.51px 6.88px,13.72px 6.59px,12.05px 6.29px,10.49px 5.98px,9.05px 5.65px,7.73px 5.31px,6.55px 4.97px,5.49px 4.62px,4.57px 4.26px,3.79px 3.89px,3.15px 3.52px,2.65px 3.14px,2.29px 2.76px,2.07px 2.38px,2.00px 2.00px);background:conic-gradient(from 270deg at 54.70px 85.00px, #929292 57.487deg, #929292 57.506deg, #929292 57.532deg, #929292 57.587deg, #929292 57.640deg, #929292 57.814deg, #929292 58.053deg, #929292 58.361deg, #929292 58.737deg, #929292 59.183deg, #929292 59.701deg, #929292 60.292deg, #929292 60.958deg, #939393 61.700deg, #939393 62.521deg, #939393 63.420deg, #949494 64.400deg, #959595 65.461deg, #969696 66.604deg, #979797 67.829deg, #989898 69.135deg, #989898 70.522deg, #989898 71.987deg, #989898 73.529deg, #979797 75.143deg, #989898 76.825deg, #9b9b9b 78.570deg, #a1a1a1 80.371deg, #ababab 82.220deg, #b8b8b8 84.110deg, #c2c2c2 86.030deg, #c6c6c6 87.972deg, #c2c2c2 89.924deg, #b7b7b7 91.877deg, #aaaaaa 93.819deg, #a0a0a0 95.741deg, #999999 97.632deg, #959595 99.483deg, #939393 101.285deg, #929292 103.032deg, #919191 104.717deg, #909090 106.333deg, #8e8e8e 107.877deg, #8d8d8d 109.345deg, #8c8c8c 110.735deg, #8c8c8c 112.044deg, #8c8c8c 113.271deg, #8c8c8c 114.417deg, #8c8c8c 115.480deg, #8c8c8c 116.462deg, #8c8c8c 117.364deg, #8c8c8c 118.187deg, #8c8c8c 118.931deg, #8c8c8c 119.599deg, #8c8c8c 120.192deg, #8c8c8c 120.711deg, #8c8c8c 121.159deg, #8c8c8c 121.536deg, #8c8c8c 121.844deg, #8c8c8c 122.085deg, #8c8c8c 122.259deg, #8c8c8c 122.315deg, #8c8c8c 122.369deg, #8c8c8c 122.395deg, #8c8c8c 122.414deg);"></div>
<div style="position:absolute;left:652.00px;top:744.70px;width:105.20px;height:14.60px;border-radius:50%;background:linear-gradient(90deg,#9d9d9d 0%,#a6a6a6 30%,#adadad 50%,#a8a8a8 70%,#a0a0a0 100%);"></div>
<div style="position:absolute;left:699.3px;top:835.4px;width:10.8px;height:10.8px;border-radius:50%;background:#d6300c;"></div>
</body></html>
